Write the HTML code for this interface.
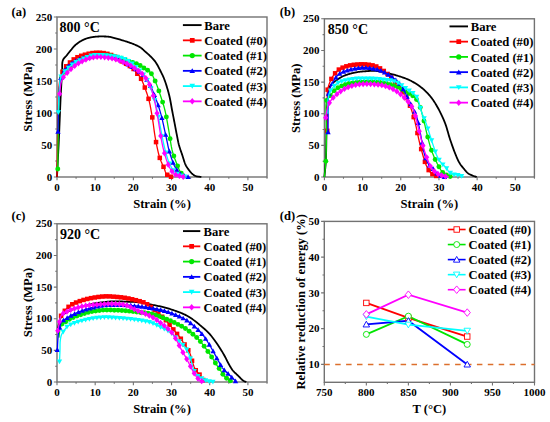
<!DOCTYPE html>
<html><head><meta charset="utf-8"><style>
html,body{margin:0;padding:0;background:#fff;width:550px;height:422px;overflow:hidden}
svg{display:block}
text{font-family:"Liberation Serif", serif;font-weight:bold;fill:#000}
</style></head><body>
<svg width="550" height="422" viewBox="0 0 550 422">
<rect width="550" height="422" fill="#fff"/>
<rect x="57.00" y="17.00" width="210.00" height="160.00" fill="none" stroke="#727272" stroke-width="1.4"/>
<path d="M57.00,177.00v3.2M95.18,177.00v3.2M133.36,177.00v3.2M171.55,177.00v3.2M209.73,177.00v3.2M247.91,177.00v3.2M76.09,177.00v1.8M114.27,177.00v1.8M152.45,177.00v1.8M190.64,177.00v1.8M228.82,177.00v1.8M267.00,177.00v1.8M57.00,177.00h-3.2M57.00,145.00h-3.2M57.00,113.00h-3.2M57.00,81.00h-3.2M57.00,49.00h-3.2M57.00,17.00h-3.2M57.00,161.00h-1.8M57.00,129.00h-1.8M57.00,97.00h-1.8M57.00,65.00h-1.8M57.00,33.00h-1.8" stroke="#727272" stroke-width="1.1" fill="none"/>
<text x="57.00" y="190.60" font-size="11.0" text-anchor="middle" >0</text>
<text x="95.18" y="190.60" font-size="11.0" text-anchor="middle" >10</text>
<text x="133.36" y="190.60" font-size="11.0" text-anchor="middle" >20</text>
<text x="171.55" y="190.60" font-size="11.0" text-anchor="middle" >30</text>
<text x="209.73" y="190.60" font-size="11.0" text-anchor="middle" >40</text>
<text x="247.91" y="190.60" font-size="11.0" text-anchor="middle" >50</text>
<text x="52.20" y="180.60" font-size="11.0" text-anchor="end" >0</text>
<text x="52.20" y="148.60" font-size="11.0" text-anchor="end" >50</text>
<text x="52.20" y="116.60" font-size="11.0" text-anchor="end" >100</text>
<text x="52.20" y="84.60" font-size="11.0" text-anchor="end" >150</text>
<text x="52.20" y="52.60" font-size="11.0" text-anchor="end" >200</text>
<text x="52.20" y="20.60" font-size="11.0" text-anchor="end" >250</text>
<path d="M57.00,177.00 L57.16,173.81 L57.32,170.63 L57.48,167.47 L57.64,164.31 L57.80,161.15 L57.96,157.99 L58.12,154.81 L58.28,151.62 L58.44,148.41 L58.60,145.17 L58.75,141.90 L58.91,138.60 L59.07,134.94 L59.24,131.16 L59.40,127.28 L59.56,123.35 L59.72,119.40 L59.88,115.45 L60.03,111.55 L60.19,107.72 L60.35,104.00 L60.50,100.42 L60.66,97.01 L60.82,93.80 L60.93,91.64 L61.05,89.53 L61.16,87.48 L61.28,85.47 L61.39,83.53 L61.51,81.63 L61.62,79.79 L61.74,78.00 L61.85,76.27 L61.95,74.59 L62.06,72.97 L62.15,71.40 L62.20,70.33 L62.23,69.28 L62.23,68.25 L62.22,67.24 L62.21,66.27 L62.21,65.32 L62.23,64.40 L62.27,63.52 L62.34,62.67 L62.47,61.85 L62.64,61.07 L62.88,60.33 L63.11,59.79 L63.38,59.28 L63.68,58.81 L64.00,58.36 L64.35,57.93 L64.71,57.51 L65.09,57.11 L65.47,56.71 L65.84,56.31 L66.22,55.91 L66.58,55.50 L66.93,55.08 L67.26,54.66 L67.59,54.23 L67.92,53.81 L68.25,53.39 L68.59,52.97 L68.92,52.55 L69.25,52.13 L69.58,51.71 L69.91,51.30 L70.24,50.89 L70.57,50.49 L70.90,50.09 L71.20,49.71 L71.51,49.34 L71.81,48.96 L72.11,48.59 L72.41,48.22 L72.71,47.86 L73.01,47.50 L73.32,47.14 L73.62,46.79 L73.93,46.45 L74.24,46.12 L74.56,45.80 L74.86,45.51 L75.16,45.23 L75.46,44.96 L75.77,44.69 L76.08,44.43 L76.38,44.18 L76.70,43.93 L77.01,43.68 L77.33,43.44 L77.65,43.20 L77.98,42.96 L78.31,42.73 L78.64,42.49 L78.99,42.26 L79.34,42.03 L79.69,41.81 L80.04,41.59 L80.40,41.37 L80.76,41.16 L81.12,40.95 L81.49,40.74 L81.85,40.55 L82.22,40.35 L82.58,40.17 L82.93,39.99 L83.29,39.82 L83.64,39.66 L84.00,39.49 L84.36,39.34 L84.72,39.19 L85.08,39.04 L85.44,38.90 L85.80,38.76 L86.16,38.63 L86.53,38.50 L86.90,38.38 L87.26,38.26 L87.62,38.15 L87.99,38.05 L88.35,37.95 L88.72,37.85 L89.08,37.76 L89.45,37.68 L89.83,37.59 L90.20,37.51 L90.58,37.44 L90.97,37.36 L91.36,37.29 L91.81,37.21 L92.26,37.13 L92.72,37.06 L93.18,36.99 L93.65,36.93 L94.12,36.87 L94.59,36.81 L95.07,36.76 L95.55,36.71 L96.03,36.66 L96.50,36.62 L96.98,36.58 L97.46,36.55 L97.94,36.52 L98.42,36.50 L98.90,36.48 L99.39,36.46 L99.87,36.45 L100.36,36.45 L100.84,36.44 L101.33,36.44 L101.83,36.44 L102.32,36.45 L102.82,36.46 L103.34,36.46 L103.86,36.47 L104.38,36.48 L104.90,36.49 L105.42,36.50 L105.94,36.52 L106.47,36.54 L107.01,36.58 L107.57,36.62 L108.13,36.68 L108.71,36.75 L109.31,36.84 L110.13,36.98 L110.99,37.15 L111.87,37.35 L112.77,37.56 L113.69,37.80 L114.63,38.05 L115.58,38.32 L116.54,38.59 L117.51,38.87 L118.47,39.15 L119.43,39.44 L120.38,39.72 L121.42,40.03 L122.48,40.34 L123.56,40.67 L124.66,41.01 L125.75,41.35 L126.85,41.70 L127.94,42.05 L129.01,42.41 L130.05,42.78 L131.07,43.14 L132.05,43.51 L132.98,43.88 L133.70,44.17 L134.41,44.47 L135.11,44.76 L135.79,45.06 L136.45,45.36 L137.10,45.66 L137.74,45.97 L138.35,46.28 L138.95,46.59 L139.53,46.92 L140.08,47.25 L140.62,47.59 L141.03,47.87 L141.42,48.16 L141.78,48.45 L142.13,48.75 L142.47,49.04 L142.80,49.35 L143.12,49.65 L143.45,49.96 L143.78,50.28 L144.11,50.59 L144.46,50.92 L144.82,51.24 L145.24,51.61 L145.68,51.99 L146.12,52.37 L146.56,52.76 L147.02,53.15 L147.47,53.55 L147.92,53.95 L148.38,54.35 L148.83,54.77 L149.28,55.18 L149.73,55.61 L150.16,56.04 L150.62,56.50 L151.08,56.96 L151.54,57.42 L152.00,57.88 L152.45,58.35 L152.90,58.83 L153.35,59.32 L153.80,59.82 L154.24,60.34 L154.67,60.87 L155.09,61.42 L155.51,61.99 L155.99,62.69 L156.46,63.43 L156.92,64.20 L157.38,65.00 L157.83,65.81 L158.27,66.64 L158.71,67.48 L159.13,68.31 L159.55,69.14 L159.95,69.96 L160.35,70.76 L160.74,71.53 L161.07,72.18 L161.39,72.81 L161.70,73.43 L162.00,74.03 L162.29,74.62 L162.58,75.22 L162.87,75.83 L163.15,76.45 L163.43,77.09 L163.71,77.76 L164.00,78.46 L164.29,79.21 L164.71,80.32 L165.13,81.50 L165.56,82.75 L165.99,84.05 L166.42,85.39 L166.84,86.76 L167.26,88.15 L167.67,89.54 L168.06,90.94 L168.44,92.33 L168.80,93.69 L169.14,95.02 L169.44,96.27 L169.72,97.52 L169.99,98.77 L170.23,100.02 L170.47,101.27 L170.70,102.52 L170.92,103.76 L171.14,105.01 L171.36,106.25 L171.58,107.50 L171.81,108.74 L172.04,109.99 L172.29,111.25 L172.53,112.53 L172.78,113.81 L173.03,115.11 L173.28,116.40 L173.53,117.68 L173.78,118.96 L174.02,120.22 L174.26,121.46 L174.50,122.67 L174.72,123.86 L174.94,125.00 L175.12,125.91 L175.28,126.79 L175.45,127.65 L175.60,128.49 L175.76,129.32 L175.91,130.14 L176.06,130.95 L176.22,131.75 L176.37,132.56 L176.53,133.37 L176.69,134.19 L176.85,135.02 L177.02,135.85 L177.18,136.68 L177.34,137.52 L177.50,138.35 L177.66,139.19 L177.82,140.02 L177.99,140.85 L178.16,141.68 L178.34,142.52 L178.54,143.34 L178.74,144.17 L178.95,145.00 L179.19,145.84 L179.43,146.67 L179.69,147.51 L179.96,148.34 L180.23,149.17 L180.51,150.00 L180.80,150.83 L181.09,151.66 L181.38,152.49 L181.67,153.32 L181.95,154.15 L182.24,154.98 L182.51,155.83 L182.79,156.70 L183.06,157.58 L183.33,158.46 L183.61,159.35 L183.88,160.23 L184.16,161.10 L184.45,161.94 L184.74,162.76 L185.04,163.55 L185.35,164.30 L185.67,165.00 L185.92,165.50 L186.17,165.97 L186.43,166.43 L186.69,166.86 L186.96,167.29 L187.23,167.70 L187.50,168.10 L187.78,168.49 L188.06,168.88 L188.34,169.26 L188.63,169.64 L188.92,170.02 L189.19,170.39 L189.47,170.75 L189.76,171.11 L190.05,171.46 L190.34,171.82 L190.63,172.16 L190.93,172.50 L191.22,172.82 L191.52,173.14 L191.82,173.44 L192.13,173.72 L192.43,173.99 L192.68,174.21 L192.93,174.41 L193.18,174.61 L193.43,174.79 L193.67,174.97 L193.92,175.14 L194.18,175.30 L194.44,175.46 L194.71,175.60 L195.00,175.74 L195.29,175.88 L195.60,176.00 L196.01,176.14 L196.44,176.26 L196.89,176.37 L197.36,176.46 L197.85,176.54 L198.34,176.60 L198.84,176.67 L199.34,176.73 L199.85,176.79 L200.35,176.85 L200.84,176.92 L201.33,177.00" fill="none" stroke="#000000" stroke-width="1.8" stroke-linejoin="round"/>
<path d="M57.00,177.00 L57.03,174.88 L57.06,172.79 L57.09,170.72 L57.12,168.66 L57.16,166.60 L57.19,164.52 L57.22,162.43 L57.25,160.32 L57.28,158.16 L57.31,155.97 L57.35,153.71 L57.38,151.40 L57.42,148.45 L57.46,145.36 L57.50,142.16 L57.54,138.89 L57.58,135.56 L57.62,132.20 L57.66,128.84 L57.71,125.51 L57.76,122.24 L57.82,119.04 L57.88,115.95 L57.95,113.00 L58.01,110.65 L58.07,108.30 L58.12,105.96 L58.17,103.65 L58.23,101.38 L58.29,99.15 L58.36,96.98 L58.44,94.88 L58.54,92.86 L58.64,90.94 L58.77,89.11 L58.91,87.40 L59.01,86.37 L59.11,85.38 L59.21,84.42 L59.32,83.50 L59.43,82.61 L59.55,81.76 L59.68,80.93 L59.81,80.13 L59.95,79.35 L60.10,78.60 L60.26,77.87 L60.44,77.16 L60.56,76.67 L60.69,76.20 L60.82,75.75 L60.95,75.31 L61.09,74.89 L61.23,74.49 L61.38,74.08 L61.54,73.68 L61.71,73.28 L61.89,72.88 L62.09,72.46 L62.31,72.04 L62.58,71.53 L62.88,71.01 L63.21,70.48 L63.55,69.95 L63.90,69.41 L64.27,68.88 L64.65,68.36 L65.03,67.84 L65.42,67.33 L65.81,66.83 L66.20,66.36 L66.58,65.90 L66.93,65.50 L67.27,65.11 L67.63,64.73 L67.98,64.37 L68.34,64.01 L68.70,63.66 L69.06,63.31 L69.43,62.97 L69.80,62.64 L70.16,62.31 L70.53,61.99 L70.90,61.67 L71.24,61.38 L71.59,61.08 L71.93,60.80 L72.27,60.51 L72.62,60.23 L72.97,59.96 L73.32,59.69 L73.67,59.43 L74.02,59.18 L74.38,58.94 L74.74,58.70 L75.10,58.47 L75.44,58.27 L75.79,58.07 L76.14,57.88 L76.50,57.69 L76.85,57.52 L77.21,57.35 L77.57,57.18 L77.93,57.02 L78.29,56.87 L78.65,56.71 L79.01,56.57 L79.37,56.42 L79.73,56.29 L80.09,56.16 L80.44,56.04 L80.80,55.92 L81.16,55.81 L81.53,55.70 L81.89,55.60 L82.25,55.49 L82.61,55.39 L82.97,55.29 L83.33,55.18 L83.69,55.08 L84.04,54.98 L84.39,54.87 L84.74,54.77 L85.09,54.67 L85.44,54.57 L85.79,54.47 L86.14,54.38 L86.48,54.28 L86.83,54.19 L87.19,54.10 L87.54,54.01 L87.89,53.93 L88.24,53.85 L88.59,53.77 L88.94,53.69 L89.30,53.61 L89.65,53.54 L90.00,53.46 L90.36,53.39 L90.71,53.33 L91.07,53.26 L91.43,53.20 L91.80,53.15 L92.17,53.10 L92.56,53.04 L92.96,53.00 L93.36,52.95 L93.76,52.91 L94.17,52.87 L94.58,52.83 L94.99,52.80 L95.41,52.78 L95.82,52.75 L96.24,52.74 L96.67,52.72 L97.09,52.71 L97.55,52.71 L98.02,52.70 L98.49,52.71 L98.97,52.71 L99.45,52.72 L99.93,52.74 L100.41,52.76 L100.90,52.79 L101.38,52.83 L101.86,52.87 L102.34,52.91 L102.82,52.97 L103.30,53.03 L103.78,53.10 L104.26,53.17 L104.74,53.25 L105.22,53.33 L105.69,53.42 L106.17,53.52 L106.65,53.63 L107.12,53.74 L107.60,53.86 L108.07,53.99 L108.55,54.12 L109.02,54.26 L109.50,54.41 L109.96,54.56 L110.43,54.72 L110.89,54.89 L111.36,55.06 L111.82,55.24 L112.29,55.44 L112.77,55.65 L113.26,55.87 L113.76,56.11 L114.27,56.36 L114.97,56.73 L115.70,57.13 L116.44,57.57 L117.19,58.03 L117.96,58.52 L118.74,59.02 L119.52,59.53 L120.31,60.06 L121.09,60.58 L121.88,61.10 L122.66,61.62 L123.44,62.12 L124.24,62.63 L125.08,63.14 L125.93,63.66 L126.79,64.17 L127.66,64.70 L128.51,65.22 L129.35,65.74 L130.16,66.27 L130.94,66.80 L131.68,67.33 L132.36,67.86 L132.98,68.39 L133.39,68.78 L133.77,69.17 L134.12,69.57 L134.45,69.96 L134.76,70.35 L135.06,70.75 L135.34,71.14 L135.63,71.54 L135.91,71.94 L136.20,72.33 L136.49,72.73 L136.80,73.13 L137.12,73.51 L137.43,73.88 L137.75,74.23 L138.07,74.57 L138.38,74.91 L138.70,75.26 L139.01,75.63 L139.33,76.02 L139.65,76.43 L139.97,76.89 L140.29,77.38 L140.62,77.93 L141.26,79.12 L141.92,80.50 L142.62,82.04 L143.32,83.71 L144.03,85.49 L144.74,87.35 L145.44,89.24 L146.12,91.16 L146.76,93.06 L147.37,94.92 L147.94,96.72 L148.45,98.41 L148.84,99.82 L149.21,101.19 L149.54,102.54 L149.84,103.87 L150.12,105.19 L150.38,106.51 L150.63,107.84 L150.88,109.19 L151.12,110.56 L151.36,111.97 L151.62,113.42 L151.88,114.92 L152.22,116.88 L152.54,118.94 L152.86,121.08 L153.17,123.28 L153.48,125.52 L153.78,127.78 L154.09,130.04 L154.41,132.29 L154.73,134.49 L155.07,136.65 L155.41,138.73 L155.78,140.71 L156.08,142.30 L156.39,143.88 L156.71,145.44 L157.03,146.97 L157.35,148.48 L157.68,149.97 L158.01,151.42 L158.36,152.84 L158.72,154.22 L159.09,155.56 L159.47,156.86 L159.86,158.12 L160.18,159.07 L160.52,159.99 L160.88,160.88 L161.24,161.76 L161.61,162.61 L161.98,163.44 L162.35,164.25 L162.72,165.05 L163.08,165.82 L163.42,166.58 L163.75,167.32 L164.06,168.04 L164.28,168.58 L164.48,169.12 L164.66,169.66 L164.84,170.18 L165.01,170.69 L165.18,171.20 L165.35,171.68 L165.54,172.15 L165.73,172.60 L165.94,173.02 L166.17,173.43 L166.43,173.80 L166.65,174.09 L166.89,174.36 L167.14,174.62 L167.39,174.87 L167.66,175.10 L167.93,175.32 L168.20,175.53 L168.48,175.72 L168.77,175.90 L169.06,176.07 L169.35,176.22 L169.64,176.36 L169.91,176.47 L170.18,176.56 L170.46,176.64 L170.75,176.70 L171.04,176.74 L171.33,176.78 L171.62,176.82 L171.91,176.85 L172.20,176.88 L172.49,176.91 L172.78,176.95 L173.07,177.00" fill="none" stroke="#ff0000" stroke-width="1.3" stroke-linejoin="round"/>
<rect x="60.24" y="69.43" width="4.51" height="4.51" fill="#ff0000"/><rect x="63.98" y="64.05" width="4.51" height="4.51" fill="#ff0000"/><rect x="67.72" y="60.22" width="4.51" height="4.51" fill="#ff0000"/><rect x="71.47" y="57.14" width="4.51" height="4.51" fill="#ff0000"/><rect x="75.21" y="54.97" width="4.51" height="4.51" fill="#ff0000"/><rect x="78.95" y="53.54" width="4.51" height="4.51" fill="#ff0000"/><rect x="82.69" y="52.45" width="4.51" height="4.51" fill="#ff0000"/><rect x="86.43" y="51.49" width="4.51" height="4.51" fill="#ff0000"/><rect x="90.18" y="50.80" width="4.51" height="4.51" fill="#ff0000"/><rect x="93.92" y="50.48" width="4.51" height="4.51" fill="#ff0000"/><rect x="97.66" y="50.48" width="4.51" height="4.51" fill="#ff0000"/><rect x="101.40" y="50.82" width="4.51" height="4.51" fill="#ff0000"/><rect x="105.14" y="51.55" width="4.51" height="4.51" fill="#ff0000"/><rect x="108.88" y="52.72" width="4.51" height="4.51" fill="#ff0000"/><rect x="112.63" y="54.42" width="4.51" height="4.51" fill="#ff0000"/><rect x="116.37" y="56.69" width="4.51" height="4.51" fill="#ff0000"/><rect x="120.11" y="59.17" width="4.51" height="4.51" fill="#ff0000"/><rect x="123.85" y="61.51" width="4.51" height="4.51" fill="#ff0000"/><rect x="127.59" y="63.81" width="4.51" height="4.51" fill="#ff0000"/><rect x="131.34" y="66.73" width="4.51" height="4.51" fill="#ff0000"/><rect x="135.08" y="71.50" width="4.51" height="4.51" fill="#ff0000"/><rect x="138.82" y="76.53" width="4.51" height="4.51" fill="#ff0000"/><rect x="142.56" y="85.29" width="4.51" height="4.51" fill="#ff0000"/><rect x="146.30" y="96.56" width="4.51" height="4.51" fill="#ff0000"/><rect x="150.04" y="115.16" width="4.51" height="4.51" fill="#ff0000"/><rect x="153.79" y="139.83" width="4.51" height="4.51" fill="#ff0000"/><rect x="157.53" y="155.62" width="4.51" height="4.51" fill="#ff0000"/><rect x="161.27" y="164.55" width="4.51" height="4.51" fill="#ff0000"/><rect x="165.01" y="172.49" width="4.51" height="4.51" fill="#ff0000"/><rect x="168.75" y="174.48" width="4.51" height="4.51" fill="#ff0000"/>
<path d="M57.76,169.00 L57.79,166.47 L57.83,163.94 L57.86,161.42 L57.88,158.90 L57.91,156.37 L57.94,153.85 L57.97,151.32 L58.01,148.79 L58.04,146.25 L58.07,143.71 L58.11,141.16 L58.15,138.60 L58.18,135.94 L58.22,133.23 L58.26,130.49 L58.30,127.73 L58.34,124.96 L58.38,122.21 L58.42,119.47 L58.47,116.77 L58.52,114.12 L58.58,111.53 L58.65,109.02 L58.72,106.60 L58.77,104.70 L58.82,102.82 L58.87,100.94 L58.91,99.09 L58.96,97.28 L59.02,95.50 L59.08,93.77 L59.16,92.09 L59.25,90.48 L59.37,88.95 L59.51,87.49 L59.67,86.12 L59.79,85.29 L59.90,84.50 L60.01,83.74 L60.12,83.01 L60.24,82.31 L60.37,81.64 L60.52,80.98 L60.68,80.33 L60.87,79.70 L61.08,79.07 L61.31,78.44 L61.58,77.80 L61.88,77.16 L62.21,76.54 L62.56,75.92 L62.93,75.32 L63.33,74.72 L63.74,74.13 L64.18,73.55 L64.63,72.98 L65.09,72.42 L65.56,71.86 L66.05,71.31 L66.55,70.76 L67.09,70.18 L67.66,69.61 L68.25,69.04 L68.86,68.48 L69.48,67.93 L70.12,67.39 L70.77,66.86 L71.44,66.34 L72.11,65.83 L72.80,65.33 L73.49,64.84 L74.18,64.36 L74.92,63.87 L75.66,63.39 L76.42,62.92 L77.19,62.46 L77.98,62.01 L78.77,61.57 L79.57,61.15 L80.39,60.74 L81.21,60.34 L82.04,59.96 L82.88,59.59 L83.73,59.24 L84.63,58.89 L85.56,58.55 L86.51,58.22 L87.47,57.91 L88.44,57.62 L89.42,57.34 L90.39,57.08 L91.37,56.83 L92.34,56.60 L93.31,56.40 L94.25,56.21 L95.18,56.04 L96.00,55.91 L96.81,55.79 L97.62,55.69 L98.42,55.61 L99.21,55.54 L100.00,55.49 L100.79,55.45 L101.57,55.42 L102.36,55.40 L103.15,55.39 L103.93,55.39 L104.73,55.40 L105.52,55.42 L106.32,55.45 L107.12,55.49 L107.92,55.54 L108.72,55.60 L109.52,55.68 L110.32,55.76 L111.12,55.86 L111.91,55.97 L112.70,56.09 L113.49,56.22 L114.27,56.36 L115.05,56.52 L115.84,56.69 L116.63,56.88 L117.42,57.08 L118.20,57.29 L118.98,57.51 L119.76,57.74 L120.52,57.97 L121.27,58.21 L122.01,58.45 L122.73,58.69 L123.44,58.92 L124.02,59.12 L124.58,59.33 L125.13,59.54 L125.67,59.75 L126.20,59.97 L126.72,60.19 L127.24,60.40 L127.77,60.62 L128.29,60.84 L128.83,61.06 L129.37,61.27 L129.93,61.48 L130.54,61.70 L131.18,61.91 L131.82,62.12 L132.47,62.32 L133.13,62.52 L133.79,62.72 L134.45,62.93 L135.10,63.14 L135.74,63.36 L136.36,63.60 L136.97,63.84 L137.56,64.10 L138.08,64.35 L138.58,64.61 L139.07,64.87 L139.54,65.15 L140.01,65.43 L140.47,65.71 L140.93,66.00 L141.39,66.30 L141.85,66.61 L142.32,66.92 L142.80,67.24 L143.29,67.56 L143.88,67.93 L144.49,68.31 L145.12,68.69 L145.76,69.07 L146.40,69.46 L147.05,69.86 L147.68,70.28 L148.31,70.72 L148.91,71.17 L149.49,71.65 L150.04,72.15 L150.55,72.68 L151.03,73.26 L151.49,73.86 L151.91,74.48 L152.31,75.13 L152.69,75.80 L153.05,76.49 L153.40,77.20 L153.74,77.92 L154.08,78.67 L154.42,79.43 L154.77,80.21 L155.13,81.00 L155.58,82.03 L156.03,83.11 L156.48,84.22 L156.92,85.37 L157.36,86.55 L157.79,87.75 L158.21,88.97 L158.64,90.20 L159.06,91.43 L159.47,92.66 L159.88,93.88 L160.28,95.08 L160.69,96.29 L161.10,97.50 L161.50,98.70 L161.90,99.90 L162.29,101.10 L162.68,102.32 L163.06,103.54 L163.44,104.78 L163.81,106.04 L164.17,107.33 L164.52,108.64 L164.86,109.99 L165.26,111.64 L165.64,113.35 L166.00,115.10 L166.36,116.90 L166.70,118.72 L167.04,120.56 L167.36,122.41 L167.69,124.27 L168.01,126.11 L168.32,127.94 L168.63,129.73 L168.95,131.50 L169.24,133.14 L169.50,134.79 L169.76,136.45 L170.01,138.11 L170.25,139.76 L170.50,141.39 L170.75,143.01 L171.01,144.60 L171.28,146.16 L171.58,147.68 L171.89,149.17 L172.23,150.60 L172.53,151.74 L172.85,152.86 L173.18,153.95 L173.51,155.02 L173.86,156.07 L174.22,157.10 L174.58,158.12 L174.94,159.12 L175.31,160.10 L175.69,161.07 L176.06,162.03 L176.43,162.98 L176.76,163.82 L177.08,164.65 L177.40,165.48 L177.73,166.30 L178.06,167.11 L178.39,167.91 L178.73,168.69 L179.07,169.45 L179.43,170.18 L179.79,170.89 L180.17,171.56 L180.56,172.20 L180.88,172.68 L181.21,173.13 L181.55,173.56 L181.90,173.97 L182.25,174.36 L182.61,174.74 L182.96,175.11 L183.33,175.48 L183.69,175.85 L184.05,176.23 L184.40,176.61 L184.76,177.00" fill="none" stroke="#00e600" stroke-width="1.3" stroke-linejoin="round"/>
<circle cx="61.58" cy="77.80" r="2.47" fill="#00e600"/><circle cx="65.32" cy="72.14" r="2.47" fill="#00e600"/><circle cx="69.07" cy="68.30" r="2.47" fill="#00e600"/><circle cx="72.81" cy="65.32" r="2.47" fill="#00e600"/><circle cx="76.55" cy="62.85" r="2.47" fill="#00e600"/><circle cx="80.29" cy="60.79" r="2.47" fill="#00e600"/><circle cx="84.03" cy="59.12" r="2.47" fill="#00e600"/><circle cx="87.77" cy="57.82" r="2.47" fill="#00e600"/><circle cx="91.52" cy="56.80" r="2.47" fill="#00e600"/><circle cx="95.26" cy="56.03" r="2.47" fill="#00e600"/><circle cx="99.00" cy="55.56" r="2.47" fill="#00e600"/><circle cx="102.74" cy="55.39" r="2.47" fill="#00e600"/><circle cx="106.48" cy="55.46" r="2.47" fill="#00e600"/><circle cx="110.23" cy="55.75" r="2.47" fill="#00e600"/><circle cx="113.97" cy="56.30" r="2.47" fill="#00e600"/><circle cx="117.71" cy="57.16" r="2.47" fill="#00e600"/><circle cx="121.45" cy="58.27" r="2.47" fill="#00e600"/><circle cx="125.19" cy="59.56" r="2.47" fill="#00e600"/><circle cx="128.93" cy="61.10" r="2.47" fill="#00e600"/><circle cx="132.68" cy="62.38" r="2.47" fill="#00e600"/><circle cx="136.42" cy="63.62" r="2.47" fill="#00e600"/><circle cx="140.16" cy="65.52" r="2.47" fill="#00e600"/><circle cx="143.90" cy="67.95" r="2.47" fill="#00e600"/><circle cx="147.64" cy="70.25" r="2.47" fill="#00e600"/><circle cx="151.39" cy="73.73" r="2.47" fill="#00e600"/><circle cx="155.13" cy="81.00" r="2.47" fill="#00e600"/><circle cx="158.87" cy="90.88" r="2.47" fill="#00e600"/><circle cx="162.61" cy="102.10" r="2.47" fill="#00e600"/><circle cx="166.35" cy="116.88" r="2.47" fill="#00e600"/><circle cx="170.09" cy="138.68" r="2.47" fill="#00e600"/><circle cx="173.84" cy="156.00" r="2.47" fill="#00e600"/><circle cx="177.58" cy="165.92" r="2.47" fill="#00e600"/><circle cx="181.32" cy="173.27" r="2.47" fill="#00e600"/><circle cx="57.76" cy="169.00" r="2.47" fill="#00e600"/>
<path d="M57.99,131.56 L58.04,129.46 L58.08,127.34 L58.12,125.19 L58.15,123.03 L58.19,120.88 L58.23,118.73 L58.27,116.61 L58.31,114.51 L58.36,112.45 L58.41,110.44 L58.47,108.49 L58.53,106.60 L58.58,105.14 L58.63,103.71 L58.67,102.31 L58.72,100.94 L58.77,99.59 L58.83,98.26 L58.89,96.96 L58.95,95.67 L59.02,94.39 L59.10,93.12 L59.19,91.86 L59.29,90.60 L59.38,89.47 L59.46,88.34 L59.54,87.21 L59.61,86.09 L59.69,84.97 L59.79,83.88 L59.90,82.79 L60.02,81.74 L60.17,80.70 L60.35,79.70 L60.57,78.73 L60.82,77.80 L61.05,77.07 L61.30,76.36 L61.56,75.66 L61.84,74.99 L62.14,74.33 L62.45,73.69 L62.78,73.07 L63.12,72.46 L63.48,71.86 L63.85,71.27 L64.24,70.69 L64.64,70.12 L65.04,69.58 L65.46,69.05 L65.89,68.53 L66.34,68.02 L66.80,67.53 L67.28,67.04 L67.77,66.57 L68.27,66.11 L68.78,65.66 L69.30,65.22 L69.83,64.78 L70.36,64.36 L70.94,63.93 L71.52,63.51 L72.12,63.10 L72.74,62.70 L73.36,62.31 L74.00,61.93 L74.64,61.57 L75.30,61.21 L75.96,60.86 L76.63,60.53 L77.31,60.20 L78.00,59.88 L78.74,59.55 L79.50,59.23 L80.28,58.92 L81.07,58.62 L81.86,58.33 L82.67,58.06 L83.48,57.80 L84.29,57.54 L85.11,57.31 L85.93,57.08 L86.74,56.87 L87.55,56.68 L88.33,56.50 L89.12,56.34 L89.92,56.19 L90.71,56.06 L91.51,55.94 L92.30,55.83 L93.10,55.73 L93.90,55.64 L94.70,55.56 L95.50,55.50 L96.29,55.44 L97.09,55.40 L97.89,55.36 L98.68,55.34 L99.48,55.32 L100.27,55.32 L101.07,55.33 L101.87,55.34 L102.67,55.37 L103.46,55.42 L104.26,55.47 L105.05,55.54 L105.85,55.62 L106.64,55.72 L107.44,55.83 L108.25,55.96 L109.06,56.10 L109.88,56.25 L110.69,56.42 L111.51,56.60 L112.31,56.79 L113.11,57.00 L113.90,57.22 L114.67,57.45 L115.44,57.70 L116.18,57.96 L116.86,58.22 L117.52,58.49 L118.17,58.77 L118.80,59.07 L119.43,59.38 L120.05,59.70 L120.66,60.03 L121.28,60.37 L121.90,60.72 L122.53,61.07 L123.17,61.43 L123.82,61.80 L124.56,62.23 L125.32,62.67 L126.08,63.13 L126.85,63.61 L127.62,64.09 L128.39,64.58 L129.17,65.08 L129.94,65.58 L130.71,66.08 L131.47,66.58 L132.23,67.07 L132.98,67.56 L133.70,68.01 L134.43,68.45 L135.15,68.89 L135.87,69.31 L136.59,69.74 L137.31,70.17 L138.02,70.61 L138.72,71.06 L139.40,71.54 L140.08,72.04 L140.74,72.57 L141.38,73.13 L142.06,73.77 L142.72,74.44 L143.37,75.14 L144.01,75.87 L144.64,76.62 L145.26,77.38 L145.86,78.17 L146.44,78.97 L147.01,79.78 L147.57,80.61 L148.11,81.44 L148.64,82.28 L149.16,83.16 L149.66,84.04 L150.13,84.94 L150.59,85.85 L151.03,86.77 L151.46,87.71 L151.88,88.66 L152.29,89.64 L152.70,90.64 L153.12,91.66 L153.55,92.72 L153.98,93.80 L154.55,95.23 L155.13,96.72 L155.71,98.27 L156.29,99.86 L156.87,101.48 L157.45,103.14 L158.02,104.82 L158.58,106.52 L159.12,108.22 L159.66,109.93 L160.17,111.63 L160.66,113.32 L161.15,115.08 L161.62,116.86 L162.06,118.66 L162.49,120.47 L162.91,122.30 L163.32,124.13 L163.72,125.96 L164.11,127.78 L164.50,129.59 L164.88,131.38 L165.27,133.15 L165.67,134.89 L166.02,136.47 L166.36,138.04 L166.68,139.61 L167.00,141.16 L167.32,142.71 L167.64,144.24 L167.96,145.76 L168.29,147.27 L168.64,148.76 L169.01,150.23 L169.40,151.69 L169.83,153.13 L170.24,154.46 L170.66,155.80 L171.10,157.15 L171.55,158.50 L172.01,159.83 L172.49,161.14 L172.98,162.42 L173.48,163.66 L174.00,164.85 L174.53,165.98 L175.07,167.05 L175.63,168.04 L176.04,168.72 L176.45,169.37 L176.87,169.99 L177.29,170.59 L177.71,171.16 L178.15,171.71 L178.59,172.23 L179.06,172.73 L179.53,173.20 L180.03,173.64 L180.55,174.05 L181.09,174.44 L181.65,174.78 L182.23,175.08 L182.84,175.34 L183.47,175.56 L184.11,175.77 L184.77,175.95 L185.43,176.12 L186.10,176.28 L186.77,176.45 L187.43,176.62 L188.08,176.80 L188.73,177.00" fill="none" stroke="#0000ff" stroke-width="1.3" stroke-linejoin="round"/>
<polygon points="60.82,75.20 63.51,79.93 58.13,79.93" fill="#0000ff"/><polygon points="64.56,67.63 67.25,72.36 61.87,72.36" fill="#0000ff"/><polygon points="68.30,63.48 70.99,68.21 65.61,68.21" fill="#0000ff"/><polygon points="72.04,60.55 74.73,65.28 69.36,65.28" fill="#0000ff"/><polygon points="75.79,58.35 78.47,63.08 73.10,63.08" fill="#0000ff"/><polygon points="79.53,56.62 82.21,61.35 76.84,61.35" fill="#0000ff"/><polygon points="83.27,55.26 85.96,59.99 80.58,59.99" fill="#0000ff"/><polygon points="87.01,54.21 89.70,58.94 84.32,58.94" fill="#0000ff"/><polygon points="90.75,53.45 93.44,58.18 88.07,58.18" fill="#0000ff"/><polygon points="94.49,52.98 97.18,57.71 91.81,57.71" fill="#0000ff"/><polygon points="98.24,52.75 100.92,57.48 95.55,57.48" fill="#0000ff"/><polygon points="101.98,52.75 104.67,57.48 99.29,57.48" fill="#0000ff"/><polygon points="105.72,53.01 108.41,57.74 103.03,57.74" fill="#0000ff"/><polygon points="109.46,53.57 112.15,58.30 106.77,58.30" fill="#0000ff"/><polygon points="113.20,54.42 115.89,59.15 110.52,59.15" fill="#0000ff"/><polygon points="116.95,55.65 119.63,60.38 114.26,60.38" fill="#0000ff"/><polygon points="120.69,57.44 123.37,62.17 118.00,62.17" fill="#0000ff"/><polygon points="124.43,59.55 127.12,64.28 121.74,64.28" fill="#0000ff"/><polygon points="128.17,61.84 130.86,66.57 125.48,66.57" fill="#0000ff"/><polygon points="131.91,64.27 134.60,69.00 129.23,69.00" fill="#0000ff"/><polygon points="135.65,66.58 138.34,71.31 132.97,71.31" fill="#0000ff"/><polygon points="139.40,68.93 142.08,73.66 136.71,73.66" fill="#0000ff"/><polygon points="143.14,72.29 145.83,77.02 140.45,77.02" fill="#0000ff"/><polygon points="146.88,76.99 149.57,81.72 144.19,81.72" fill="#0000ff"/><polygon points="150.62,83.31 153.31,88.04 147.93,88.04" fill="#0000ff"/><polygon points="154.36,92.16 157.05,96.89 151.68,96.89" fill="#0000ff"/><polygon points="158.11,102.49 160.79,107.22 155.42,107.22" fill="#0000ff"/><polygon points="161.85,115.19 164.53,119.92 159.16,119.92" fill="#0000ff"/><polygon points="165.59,131.95 168.28,136.68 162.90,136.68" fill="#0000ff"/><polygon points="169.33,148.81 172.02,153.54 166.64,153.54" fill="#0000ff"/><polygon points="173.07,160.06 175.76,164.79 170.39,164.79" fill="#0000ff"/><polygon points="176.81,167.31 179.50,172.04 174.13,172.04" fill="#0000ff"/><polygon points="180.56,171.46 183.24,176.19 177.87,176.19" fill="#0000ff"/><polygon points="184.30,173.22 186.99,177.95 181.61,177.95" fill="#0000ff"/><polygon points="188.04,174.18 190.73,178.91 185.35,178.91" fill="#0000ff"/><polygon points="57.99,128.96 60.68,133.69 55.31,133.69" fill="#0000ff"/>
<path d="M58.34,112.36 L58.41,110.53 L58.48,108.68 L58.54,106.80 L58.60,104.92 L58.66,103.04 L58.72,101.17 L58.79,99.32 L58.87,97.49 L58.95,95.69 L59.05,93.94 L59.16,92.24 L59.29,90.60 L59.39,89.32 L59.46,88.05 L59.52,86.80 L59.58,85.57 L59.64,84.36 L59.72,83.17 L59.83,82.01 L59.97,80.89 L60.15,79.79 L60.40,78.73 L60.70,77.70 L61.09,76.71 L61.49,75.87 L61.96,75.06 L62.48,74.27 L63.04,73.52 L63.63,72.79 L64.26,72.08 L64.90,71.40 L65.56,70.73 L66.23,70.08 L66.89,69.44 L67.55,68.82 L68.19,68.20 L68.76,67.65 L69.34,67.12 L69.92,66.60 L70.50,66.09 L71.09,65.60 L71.68,65.12 L72.28,64.65 L72.89,64.20 L73.50,63.76 L74.13,63.33 L74.76,62.91 L75.40,62.50 L76.06,62.11 L76.72,61.74 L77.40,61.39 L78.08,61.04 L78.78,60.71 L79.48,60.40 L80.18,60.09 L80.89,59.78 L81.60,59.48 L82.31,59.19 L83.02,58.89 L83.73,58.60 L84.44,58.30 L85.15,57.99 L85.87,57.68 L86.58,57.37 L87.31,57.07 L88.03,56.77 L88.75,56.49 L89.48,56.22 L90.21,55.98 L90.93,55.76 L91.66,55.56 L92.39,55.40 L93.10,55.28 L93.80,55.18 L94.50,55.10 L95.20,55.05 L95.91,55.02 L96.61,55.00 L97.32,54.99 L98.03,55.00 L98.74,55.01 L99.46,55.03 L100.18,55.06 L100.91,55.08 L101.68,55.11 L102.46,55.15 L103.24,55.21 L104.03,55.27 L104.82,55.35 L105.61,55.43 L106.40,55.52 L107.20,55.61 L108.01,55.71 L108.82,55.82 L109.63,55.93 L110.45,56.04 L111.36,56.16 L112.28,56.28 L113.22,56.40 L114.17,56.52 L115.12,56.65 L116.08,56.78 L117.03,56.93 L117.97,57.10 L118.89,57.28 L119.80,57.48 L120.68,57.71 L121.53,57.96 L122.26,58.20 L122.97,58.46 L123.67,58.73 L124.36,59.01 L125.03,59.31 L125.69,59.62 L126.35,59.95 L126.99,60.29 L127.64,60.64 L128.27,61.01 L128.91,61.40 L129.55,61.80 L130.21,62.24 L130.87,62.71 L131.53,63.20 L132.17,63.70 L132.81,64.23 L133.45,64.76 L134.08,65.31 L134.70,65.88 L135.32,66.45 L135.95,67.03 L136.56,67.61 L137.18,68.20 L137.84,68.83 L138.51,69.47 L139.18,70.12 L139.84,70.78 L140.51,71.45 L141.16,72.13 L141.81,72.83 L142.45,73.54 L143.07,74.26 L143.67,75.00 L144.26,75.75 L144.82,76.52 L145.38,77.34 L145.92,78.17 L146.44,79.02 L146.95,79.88 L147.44,80.76 L147.91,81.66 L148.37,82.57 L148.82,83.50 L149.26,84.44 L149.70,85.41 L150.12,86.39 L150.55,87.40 L151.03,88.60 L151.49,89.83 L151.94,91.08 L152.37,92.36 L152.79,93.67 L153.20,94.99 L153.60,96.35 L153.99,97.72 L154.38,99.11 L154.76,100.52 L155.13,101.95 L155.51,103.40 L155.94,105.13 L156.35,106.90 L156.75,108.72 L157.13,110.57 L157.51,112.45 L157.88,114.35 L158.25,116.26 L158.61,118.19 L158.98,120.11 L159.34,122.02 L159.71,123.92 L160.09,125.80 L160.47,127.68 L160.84,129.59 L161.21,131.52 L161.58,133.45 L161.94,135.38 L162.31,137.31 L162.69,139.21 L163.06,141.10 L163.45,142.95 L163.85,144.75 L164.25,146.51 L164.67,148.20 L165.02,149.56 L165.37,150.89 L165.72,152.21 L166.07,153.51 L166.42,154.78 L166.79,156.03 L167.16,157.25 L167.54,158.45 L167.94,159.61 L168.36,160.75 L168.80,161.85 L169.25,162.92 L169.64,163.78 L170.03,164.63 L170.43,165.47 L170.84,166.30 L171.26,167.10 L171.68,167.88 L172.13,168.63 L172.58,169.35 L173.06,170.04 L173.55,170.70 L174.06,171.31 L174.60,171.88 L175.08,172.33 L175.58,172.75 L176.10,173.14 L176.63,173.51 L177.18,173.85 L177.73,174.18 L178.30,174.48 L178.86,174.76 L179.43,175.02 L179.99,175.27 L180.54,175.50 L181.09,175.72 L181.57,175.90 L182.05,176.05 L182.52,176.18 L183.00,176.29 L183.48,176.39 L183.95,176.48 L184.43,176.57 L184.91,176.65 L185.39,176.73 L185.86,176.81 L186.34,176.90 L186.82,177.00" fill="none" stroke="#00ffff" stroke-width="1.3" stroke-linejoin="round"/>
<polygon points="61.09,79.31 63.77,74.58 58.40,74.58" fill="#00ffff"/><polygon points="64.83,74.08 67.51,69.35 62.14,69.35" fill="#00ffff"/><polygon points="68.57,70.44 71.26,65.71 65.88,65.71" fill="#00ffff"/><polygon points="72.31,67.23 75.00,62.50 69.62,62.50" fill="#00ffff"/><polygon points="76.05,64.72 78.74,59.99 73.37,59.99" fill="#00ffff"/><polygon points="79.79,62.86 82.48,58.13 77.11,58.13" fill="#00ffff"/><polygon points="83.54,61.28 86.22,56.55 80.85,56.55" fill="#00ffff"/><polygon points="87.28,59.68 89.97,54.95 84.59,54.95" fill="#00ffff"/><polygon points="91.02,58.33 93.71,53.60 88.33,53.60" fill="#00ffff"/><polygon points="94.76,57.68 97.45,52.95 92.07,52.95" fill="#00ffff"/><polygon points="98.50,57.61 101.19,52.88 95.82,52.88" fill="#00ffff"/><polygon points="102.25,57.74 104.93,53.01 99.56,53.01" fill="#00ffff"/><polygon points="105.99,58.07 108.67,53.34 103.30,53.34" fill="#00ffff"/><polygon points="109.73,58.54 112.42,53.81 107.04,53.81" fill="#00ffff"/><polygon points="113.47,59.03 116.16,54.30 110.78,54.30" fill="#00ffff"/><polygon points="117.21,59.57 119.90,54.84 114.53,54.84" fill="#00ffff"/><polygon points="120.95,60.39 123.64,55.66 118.27,55.66" fill="#00ffff"/><polygon points="124.70,61.76 127.38,57.03 122.01,57.03" fill="#00ffff"/><polygon points="128.44,63.71 131.13,58.98 125.75,58.98" fill="#00ffff"/><polygon points="132.18,66.31 134.87,61.58 129.49,61.58" fill="#00ffff"/><polygon points="135.92,69.61 138.61,64.88 133.23,64.88" fill="#00ffff"/><polygon points="139.66,73.21 142.35,68.48 136.98,68.48" fill="#00ffff"/><polygon points="143.41,77.27 146.09,72.54 140.72,72.54" fill="#00ffff"/><polygon points="147.15,82.84 149.83,78.11 144.46,78.11" fill="#00ffff"/><polygon points="150.89,90.86 153.58,86.13 148.20,86.13" fill="#00ffff"/><polygon points="154.63,102.65 157.32,97.92 151.94,97.92" fill="#00ffff"/><polygon points="158.37,119.52 161.06,114.79 155.69,114.79" fill="#00ffff"/><polygon points="162.11,138.87 164.80,134.14 159.43,134.14" fill="#00ffff"/><polygon points="165.86,155.33 168.54,150.60 163.17,150.60" fill="#00ffff"/><polygon points="169.60,166.28 172.29,161.55 166.91,161.55" fill="#00ffff"/><polygon points="173.34,173.02 176.03,168.29 170.65,168.29" fill="#00ffff"/><polygon points="177.08,176.40 179.77,171.67 174.39,171.67" fill="#00ffff"/><polygon points="180.82,178.21 183.51,173.48 178.14,173.48" fill="#00ffff"/><polygon points="184.57,179.19 187.25,174.46 181.88,174.46" fill="#00ffff"/><polygon points="58.34,114.96 61.02,110.23 55.65,110.23" fill="#00ffff"/>
<path d="M59.71,93.80 L59.83,92.82 L59.94,91.82 L60.04,90.80 L60.13,89.77 L60.23,88.74 L60.33,87.71 L60.44,86.71 L60.56,85.73 L60.69,84.79 L60.84,83.90 L61.01,83.06 L61.20,82.28 L61.34,81.80 L61.48,81.34 L61.62,80.91 L61.77,80.50 L61.92,80.11 L62.08,79.73 L62.25,79.36 L62.43,78.99 L62.63,78.62 L62.84,78.25 L63.06,77.87 L63.30,77.48 L63.61,77.00 L63.95,76.53 L64.31,76.05 L64.69,75.58 L65.08,75.10 L65.50,74.63 L65.92,74.15 L66.36,73.68 L66.81,73.20 L67.26,72.73 L67.72,72.26 L68.19,71.78 L68.72,71.24 L69.28,70.69 L69.86,70.14 L70.44,69.58 L71.04,69.02 L71.66,68.46 L72.27,67.92 L72.90,67.38 L73.53,66.85 L74.15,66.34 L74.78,65.85 L75.40,65.38 L75.98,64.97 L76.55,64.57 L77.11,64.18 L77.68,63.80 L78.25,63.43 L78.83,63.08 L79.41,62.73 L80.01,62.39 L80.61,62.06 L81.23,61.73 L81.86,61.41 L82.51,61.10 L83.26,60.74 L84.04,60.39 L84.85,60.03 L85.67,59.69 L86.51,59.35 L87.35,59.02 L88.20,58.71 L89.06,58.42 L89.91,58.15 L90.75,57.91 L91.58,57.70 L92.39,57.51 L93.11,57.37 L93.81,57.26 L94.51,57.16 L95.20,57.08 L95.88,57.02 L96.57,56.98 L97.26,56.95 L97.96,56.94 L98.67,56.94 L99.39,56.95 L100.14,56.97 L100.91,57.00 L101.90,57.05 L102.92,57.12 L103.96,57.21 L105.03,57.33 L106.12,57.46 L107.22,57.61 L108.33,57.78 L109.45,57.97 L110.57,58.18 L111.68,58.40 L112.79,58.65 L113.89,58.92 L115.07,59.23 L116.27,59.57 L117.49,59.94 L118.71,60.33 L119.93,60.74 L121.15,61.18 L122.36,61.63 L123.55,62.10 L124.72,62.59 L125.86,63.08 L126.96,63.59 L128.02,64.10 L128.91,64.57 L129.79,65.05 L130.65,65.56 L131.49,66.07 L132.31,66.60 L133.12,67.14 L133.91,67.68 L134.68,68.22 L135.43,68.75 L136.16,69.29 L136.87,69.81 L137.56,70.31 L138.10,70.70 L138.63,71.08 L139.13,71.44 L139.63,71.80 L140.11,72.15 L140.58,72.51 L141.04,72.87 L141.50,73.25 L141.95,73.64 L142.39,74.06 L142.84,74.51 L143.29,74.98 L143.84,75.61 L144.39,76.27 L144.94,76.96 L145.48,77.69 L146.02,78.44 L146.54,79.21 L147.06,80.00 L147.56,80.82 L148.05,81.65 L148.52,82.49 L148.97,83.34 L149.40,84.20 L149.85,85.16 L150.27,86.15 L150.66,87.15 L151.03,88.17 L151.39,89.22 L151.72,90.28 L152.05,91.36 L152.37,92.45 L152.68,93.57 L152.98,94.70 L153.29,95.84 L153.60,97.00 L153.95,98.37 L154.29,99.74 L154.61,101.14 L154.92,102.55 L155.22,103.98 L155.52,105.44 L155.81,106.93 L156.11,108.46 L156.40,110.02 L156.71,111.63 L157.02,113.28 L157.34,114.98 L157.79,117.42 L158.23,120.02 L158.66,122.75 L159.10,125.59 L159.55,128.50 L160.01,131.45 L160.48,134.40 L160.96,137.32 L161.47,140.18 L162.00,142.95 L162.56,145.59 L163.15,148.07 L163.63,149.97 L164.12,151.86 L164.63,153.73 L165.14,155.58 L165.67,157.39 L166.21,159.16 L166.77,160.86 L167.35,162.48 L167.94,164.03 L168.55,165.48 L169.18,166.82 L169.83,168.04 L170.24,168.76 L170.66,169.43 L171.08,170.07 L171.50,170.68 L171.93,171.25 L172.36,171.78 L172.82,172.29 L173.28,172.77 L173.77,173.22 L174.27,173.65 L174.81,174.06 L175.36,174.44 L175.97,174.79 L176.60,175.10 L177.27,175.36 L177.96,175.59 L178.67,175.79 L179.39,175.97 L180.12,176.14 L180.86,176.29 L181.60,176.45 L182.33,176.62 L183.05,176.80 L183.76,177.00" fill="none" stroke="#ff00ff" stroke-width="1.3" stroke-linejoin="round"/>
<polygon points="59.71,90.68 62.29,93.80 59.71,96.92 57.13,93.80" fill="#ff00ff"/><polygon points="63.45,74.13 66.03,77.25 63.45,80.36 60.87,77.25" fill="#ff00ff"/><polygon points="67.19,69.68 69.77,72.80 67.19,75.92 64.61,72.80" fill="#ff00ff"/><polygon points="70.94,66.00 73.52,69.12 70.94,72.24 68.36,69.12" fill="#ff00ff"/><polygon points="74.68,62.82 77.26,65.93 74.68,69.05 72.10,65.93" fill="#ff00ff"/><polygon points="78.42,60.21 81.00,63.33 78.42,66.45 75.84,63.33" fill="#ff00ff"/><polygon points="82.16,58.15 84.74,61.26 82.16,64.38 79.58,61.26" fill="#ff00ff"/><polygon points="85.90,56.47 88.48,59.59 85.90,62.71 83.32,59.59" fill="#ff00ff"/><polygon points="89.65,55.12 92.23,58.24 89.65,61.35 87.07,58.24" fill="#ff00ff"/><polygon points="93.39,54.21 95.97,57.33 93.39,60.45 90.81,57.33" fill="#ff00ff"/><polygon points="97.13,53.84 99.71,56.96 97.13,60.08 94.55,56.96" fill="#ff00ff"/><polygon points="100.87,53.88 103.45,57.00 100.87,60.12 98.29,57.00" fill="#ff00ff"/><polygon points="104.61,54.17 107.19,57.28 104.61,60.40 102.03,57.28" fill="#ff00ff"/><polygon points="108.35,54.66 110.93,57.78 108.35,60.90 105.77,57.78" fill="#ff00ff"/><polygon points="112.10,55.38 114.68,58.50 112.10,61.61 109.52,58.50" fill="#ff00ff"/><polygon points="115.84,56.33 118.42,59.45 115.84,62.57 113.26,59.45" fill="#ff00ff"/><polygon points="119.58,57.51 122.16,60.63 119.58,63.74 117.00,60.63" fill="#ff00ff"/><polygon points="123.32,58.89 125.90,62.01 123.32,65.13 120.74,62.01" fill="#ff00ff"/><polygon points="127.06,60.52 129.64,63.64 127.06,66.76 124.48,63.64" fill="#ff00ff"/><polygon points="130.81,62.54 133.39,65.65 130.81,68.77 128.23,65.65" fill="#ff00ff"/><polygon points="134.55,65.01 137.13,68.13 134.55,71.24 131.97,68.13" fill="#ff00ff"/><polygon points="138.29,67.72 140.87,70.84 138.29,73.95 135.71,70.84" fill="#ff00ff"/><polygon points="142.03,70.60 144.61,73.72 142.03,76.84 139.45,73.72" fill="#ff00ff"/><polygon points="145.77,74.98 148.35,78.09 145.77,81.21 143.19,78.09" fill="#ff00ff"/><polygon points="149.51,81.33 152.09,84.45 149.51,87.56 146.93,84.45" fill="#ff00ff"/><polygon points="153.26,92.60 155.84,95.71 153.26,98.83 150.68,95.71" fill="#ff00ff"/><polygon points="157.00,110.06 159.58,113.18 157.00,116.30 154.42,113.18" fill="#ff00ff"/><polygon points="160.74,132.87 163.32,135.99 160.74,139.11 158.16,135.99" fill="#ff00ff"/><polygon points="164.48,150.08 167.06,153.19 164.48,156.31 161.90,153.19" fill="#ff00ff"/><polygon points="168.22,161.59 170.80,164.71 168.22,167.82 165.64,164.71" fill="#ff00ff"/><polygon points="171.97,168.18 174.55,171.29 171.97,174.41 169.39,171.29" fill="#ff00ff"/><polygon points="175.71,171.52 178.29,174.64 175.71,177.76 173.13,174.64" fill="#ff00ff"/><polygon points="179.45,172.87 182.03,175.98 179.45,179.10 176.87,175.98" fill="#ff00ff"/><polygon points="183.19,173.72 185.77,176.84 183.19,179.96 180.61,176.84" fill="#ff00ff"/>
<rect x="324.40" y="18.80" width="210.00" height="158.20" fill="none" stroke="#727272" stroke-width="1.4"/>
<path d="M324.40,177.00v3.2M362.58,177.00v3.2M400.76,177.00v3.2M438.95,177.00v3.2M477.13,177.00v3.2M515.31,177.00v3.2M343.49,177.00v1.8M381.67,177.00v1.8M419.85,177.00v1.8M458.04,177.00v1.8M496.22,177.00v1.8M534.40,177.00v1.8M324.40,177.00h-3.2M324.40,145.36h-3.2M324.40,113.72h-3.2M324.40,82.08h-3.2M324.40,50.44h-3.2M324.40,18.80h-3.2M324.40,161.18h-1.8M324.40,129.54h-1.8M324.40,97.90h-1.8M324.40,66.26h-1.8M324.40,34.62h-1.8" stroke="#727272" stroke-width="1.1" fill="none"/>
<text x="324.40" y="190.60" font-size="11.0" text-anchor="middle" >0</text>
<text x="362.58" y="190.60" font-size="11.0" text-anchor="middle" >10</text>
<text x="400.76" y="190.60" font-size="11.0" text-anchor="middle" >20</text>
<text x="438.95" y="190.60" font-size="11.0" text-anchor="middle" >30</text>
<text x="477.13" y="190.60" font-size="11.0" text-anchor="middle" >40</text>
<text x="515.31" y="190.60" font-size="11.0" text-anchor="middle" >50</text>
<text x="319.60" y="180.60" font-size="11.0" text-anchor="end" >0</text>
<text x="319.60" y="148.96" font-size="11.0" text-anchor="end" >50</text>
<text x="319.60" y="117.32" font-size="11.0" text-anchor="end" >100</text>
<text x="319.60" y="85.68" font-size="11.0" text-anchor="end" >150</text>
<text x="319.60" y="54.04" font-size="11.0" text-anchor="end" >200</text>
<text x="319.60" y="22.40" font-size="11.0" text-anchor="end" >250</text>
<path d="M324.40,177.00 L324.52,175.70 L324.64,174.42 L324.77,173.16 L324.90,171.91 L325.03,170.66 L325.15,169.40 L325.28,168.13 L325.40,166.82 L325.51,165.49 L325.62,164.11 L325.72,162.67 L325.81,161.18 L325.92,159.02 L326.01,156.74 L326.08,154.35 L326.14,151.87 L326.19,149.33 L326.24,146.74 L326.28,144.13 L326.31,141.52 L326.35,138.92 L326.39,136.36 L326.44,133.86 L326.50,131.44 L326.55,129.25 L326.60,127.06 L326.64,124.88 L326.67,122.71 L326.71,120.55 L326.75,118.41 L326.80,116.29 L326.86,114.20 L326.93,112.13 L327.02,110.10 L327.13,108.09 L327.26,106.13 L327.38,104.42 L327.50,102.68 L327.61,100.92 L327.72,99.16 L327.84,97.42 L327.98,95.72 L328.15,94.08 L328.34,92.51 L328.57,91.04 L328.83,89.69 L329.15,88.46 L329.52,87.40 L329.74,86.89 L329.97,86.42 L330.21,85.99 L330.47,85.60 L330.73,85.23 L331.00,84.89 L331.29,84.56 L331.58,84.25 L331.87,83.94 L332.18,83.64 L332.49,83.34 L332.80,83.03 L333.11,82.73 L333.44,82.44 L333.77,82.17 L334.11,81.91 L334.46,81.65 L334.81,81.40 L335.17,81.16 L335.53,80.91 L335.90,80.67 L336.26,80.43 L336.63,80.18 L337.00,79.93 L337.39,79.65 L337.79,79.38 L338.18,79.09 L338.58,78.81 L338.98,78.53 L339.39,78.25 L339.80,77.98 L340.22,77.71 L340.64,77.44 L341.07,77.19 L341.51,76.94 L341.96,76.70 L342.46,76.46 L342.97,76.22 L343.48,75.99 L344.01,75.77 L344.55,75.56 L345.09,75.36 L345.63,75.16 L346.18,74.97 L346.74,74.78 L347.30,74.59 L347.86,74.41 L348.42,74.23 L349.00,74.05 L349.59,73.87 L350.19,73.70 L350.79,73.53 L351.40,73.37 L352.00,73.22 L352.61,73.07 L353.23,72.92 L353.85,72.78 L354.47,72.65 L355.09,72.52 L355.71,72.40 L356.35,72.28 L356.98,72.17 L357.61,72.07 L358.24,71.97 L358.87,71.88 L359.51,71.80 L360.16,71.72 L360.81,71.64 L361.49,71.57 L362.17,71.51 L362.88,71.45 L363.61,71.39 L364.59,71.31 L365.61,71.23 L366.68,71.15 L367.77,71.08 L368.88,71.01 L370.01,70.96 L371.15,70.91 L372.29,70.89 L373.43,70.88 L374.54,70.89 L375.64,70.94 L376.71,71.01 L377.69,71.10 L378.66,71.22 L379.62,71.36 L380.56,71.51 L381.51,71.69 L382.44,71.88 L383.38,72.09 L384.32,72.30 L385.27,72.52 L386.22,72.75 L387.19,72.99 L388.16,73.22 L389.25,73.48 L390.37,73.76 L391.50,74.05 L392.65,74.35 L393.80,74.67 L394.95,74.99 L396.09,75.31 L397.23,75.65 L398.34,75.99 L399.44,76.33 L400.50,76.67 L401.53,77.02 L402.38,77.31 L403.21,77.60 L404.02,77.89 L404.82,78.18 L405.60,78.48 L406.37,78.78 L407.14,79.09 L407.90,79.40 L408.65,79.73 L409.41,80.08 L410.16,80.44 L410.92,80.81 L411.71,81.23 L412.51,81.67 L413.31,82.13 L414.12,82.61 L414.92,83.10 L415.72,83.60 L416.50,84.11 L417.26,84.61 L417.99,85.10 L418.70,85.59 L419.37,86.06 L420.01,86.51 L420.44,86.82 L420.85,87.12 L421.24,87.41 L421.61,87.69 L421.96,87.97 L422.31,88.25 L422.66,88.54 L423.00,88.83 L423.34,89.13 L423.70,89.44 L424.06,89.77 L424.44,90.12 L424.93,90.58 L425.43,91.06 L425.94,91.56 L426.45,92.08 L426.97,92.61 L427.50,93.16 L428.02,93.71 L428.54,94.28 L429.05,94.86 L429.56,95.45 L430.06,96.04 L430.55,96.63 L431.05,97.27 L431.54,97.90 L432.03,98.54 L432.50,99.18 L432.97,99.84 L433.44,100.50 L433.90,101.19 L434.37,101.89 L434.84,102.62 L435.31,103.38 L435.79,104.17 L436.27,104.99 L436.96,106.18 L437.67,107.45 L438.40,108.79 L439.13,110.18 L439.88,111.62 L440.62,113.09 L441.35,114.59 L442.07,116.10 L442.76,117.61 L443.44,119.12 L444.07,120.61 L444.67,122.07 L445.21,123.48 L445.72,124.91 L446.19,126.34 L446.65,127.78 L447.08,129.22 L447.50,130.66 L447.91,132.11 L448.31,133.54 L448.72,134.97 L449.14,136.38 L449.57,137.78 L450.02,139.16 L450.45,140.45 L450.89,141.75 L451.33,143.05 L451.78,144.34 L452.23,145.63 L452.68,146.91 L453.13,148.17 L453.58,149.40 L454.02,150.61 L454.47,151.79 L454.92,152.93 L455.36,154.03 L455.71,154.88 L456.05,155.71 L456.39,156.52 L456.73,157.32 L457.06,158.10 L457.40,158.86 L457.74,159.60 L458.09,160.33 L458.44,161.04 L458.80,161.74 L459.18,162.42 L459.56,163.08 L459.91,163.63 L460.26,164.16 L460.62,164.68 L460.98,165.19 L461.35,165.68 L461.73,166.17 L462.11,166.64 L462.49,167.10 L462.87,167.56 L463.25,168.01 L463.62,168.46 L463.99,168.90 L464.32,169.29 L464.64,169.69 L464.96,170.08 L465.28,170.46 L465.60,170.84 L465.92,171.22 L466.24,171.58 L466.57,171.93 L466.91,172.27 L467.25,172.60 L467.60,172.91 L467.96,173.20 L468.32,173.46 L468.68,173.71 L469.05,173.94 L469.43,174.16 L469.82,174.37 L470.21,174.56 L470.60,174.75 L470.99,174.93 L471.38,175.11 L471.77,175.28 L472.16,175.45 L472.55,175.61 L472.90,175.75 L473.25,175.89 L473.60,176.01 L473.95,176.13 L474.30,176.24 L474.65,176.35 L475.00,176.46 L475.35,176.57 L475.70,176.67 L476.05,176.78 L476.40,176.89 L476.75,177.00" fill="none" stroke="#000000" stroke-width="1.8" stroke-linejoin="round"/>
<path d="M327.26,130.81 L327.28,128.84 L327.30,126.87 L327.31,124.88 L327.33,122.88 L327.34,120.88 L327.36,118.90 L327.37,116.92 L327.39,114.96 L327.40,113.02 L327.42,111.11 L327.44,109.23 L327.45,107.39 L327.45,105.81 L327.43,104.24 L327.38,102.68 L327.33,101.13 L327.28,99.59 L327.24,98.08 L327.21,96.59 L327.21,95.13 L327.25,93.71 L327.33,92.32 L327.46,90.98 L327.65,89.67 L327.84,88.66 L328.07,87.65 L328.33,86.67 L328.62,85.70 L328.93,84.75 L329.26,83.83 L329.60,82.93 L329.95,82.06 L330.31,81.22 L330.67,80.42 L331.03,79.65 L331.39,78.92 L331.64,78.41 L331.90,77.93 L332.16,77.47 L332.42,77.03 L332.69,76.60 L332.96,76.19 L333.24,75.79 L333.52,75.40 L333.80,75.01 L334.10,74.63 L334.40,74.24 L334.71,73.85 L335.02,73.47 L335.33,73.08 L335.63,72.70 L335.94,72.32 L336.26,71.95 L336.59,71.58 L336.92,71.22 L337.28,70.87 L337.65,70.52 L338.04,70.19 L338.46,69.86 L338.91,69.55 L339.54,69.15 L340.22,68.77 L340.94,68.40 L341.70,68.04 L342.49,67.70 L343.30,67.37 L344.14,67.06 L344.99,66.76 L345.85,66.49 L346.71,66.22 L347.57,65.98 L348.42,65.75 L349.32,65.54 L350.25,65.34 L351.20,65.17 L352.17,65.02 L353.14,64.89 L354.12,64.77 L355.10,64.67 L356.07,64.59 L357.03,64.51 L357.98,64.45 L358.90,64.40 L359.79,64.36 L360.55,64.33 L361.28,64.31 L362.01,64.30 L362.73,64.30 L363.44,64.31 L364.14,64.33 L364.83,64.36 L365.53,64.40 L366.22,64.45 L366.91,64.51 L367.61,64.59 L368.31,64.68 L369.02,64.77 L369.72,64.87 L370.42,64.98 L371.13,65.09 L371.83,65.21 L372.53,65.35 L373.22,65.51 L373.92,65.68 L374.62,65.88 L375.32,66.11 L376.01,66.36 L376.71,66.64 L377.51,67.00 L378.32,67.41 L379.13,67.85 L379.94,68.33 L380.75,68.84 L381.56,69.37 L382.36,69.92 L383.16,70.50 L383.95,71.09 L384.73,71.69 L385.50,72.29 L386.25,72.90 L387.04,73.56 L387.81,74.24 L388.58,74.94 L389.34,75.67 L390.09,76.41 L390.84,77.16 L391.57,77.93 L392.29,78.70 L393.00,79.47 L393.69,80.24 L394.37,81.01 L395.04,81.76 L395.63,82.46 L396.21,83.14 L396.78,83.82 L397.32,84.50 L397.86,85.18 L398.39,85.87 L398.92,86.57 L399.44,87.28 L399.95,88.00 L400.47,88.74 L401.00,89.51 L401.53,90.31 L402.17,91.29 L402.83,92.32 L403.49,93.39 L404.16,94.49 L404.83,95.61 L405.49,96.75 L406.14,97.89 L406.77,99.03 L407.38,100.17 L407.96,101.29 L408.50,102.40 L409.01,103.47 L409.41,104.37 L409.79,105.25 L410.14,106.12 L410.48,106.99 L410.80,107.85 L411.10,108.70 L411.39,109.56 L411.68,110.42 L411.95,111.29 L412.23,112.17 L412.51,113.06 L412.79,113.97 L413.09,114.96 L413.39,115.97 L413.67,116.99 L413.96,118.01 L414.23,119.05 L414.50,120.09 L414.77,121.13 L415.03,122.18 L415.29,123.23 L415.54,124.28 L415.79,125.33 L416.04,126.38 L416.28,127.43 L416.51,128.49 L416.74,129.55 L416.96,130.62 L417.18,131.69 L417.40,132.76 L417.61,133.82 L417.82,134.89 L418.04,135.94 L418.26,136.98 L418.48,138.01 L418.71,139.03 L418.92,139.96 L419.13,140.86 L419.34,141.76 L419.55,142.64 L419.76,143.52 L419.98,144.39 L420.19,145.26 L420.41,146.14 L420.64,147.03 L420.88,147.93 L421.13,148.85 L421.38,149.79 L421.69,150.90 L422.01,152.07 L422.34,153.27 L422.68,154.49 L423.04,155.73 L423.39,156.96 L423.76,158.18 L424.12,159.38 L424.49,160.53 L424.86,161.64 L425.22,162.68 L425.58,163.65 L425.83,164.28 L426.07,164.89 L426.31,165.49 L426.55,166.06 L426.79,166.61 L427.04,167.14 L427.28,167.66 L427.54,168.16 L427.80,168.65 L428.06,169.13 L428.34,169.59 L428.64,170.04 L428.89,170.41 L429.14,170.77 L429.40,171.12 L429.66,171.45 L429.92,171.78 L430.19,172.10 L430.47,172.40 L430.76,172.70 L431.07,172.99 L431.38,173.28 L431.72,173.56 L432.07,173.84 L432.52,174.15 L433.00,174.45 L433.51,174.73 L434.04,175.00 L434.59,175.26 L435.15,175.51 L435.73,175.76 L436.30,176.00 L436.88,176.24 L437.45,176.49 L438.01,176.74 L438.56,177.00" fill="none" stroke="#ff0000" stroke-width="1.3" stroke-linejoin="round"/>
<rect x="325.39" y="87.42" width="4.51" height="4.51" fill="#ff0000"/><rect x="329.13" y="76.66" width="4.51" height="4.51" fill="#ff0000"/><rect x="332.87" y="71.07" width="4.51" height="4.51" fill="#ff0000"/><rect x="336.61" y="67.32" width="4.51" height="4.51" fill="#ff0000"/><rect x="340.36" y="65.39" width="4.51" height="4.51" fill="#ff0000"/><rect x="344.10" y="64.07" width="4.51" height="4.51" fill="#ff0000"/><rect x="347.84" y="63.12" width="4.51" height="4.51" fill="#ff0000"/><rect x="351.58" y="62.55" width="4.51" height="4.51" fill="#ff0000"/><rect x="355.32" y="62.22" width="4.51" height="4.51" fill="#ff0000"/><rect x="359.06" y="62.06" width="4.51" height="4.51" fill="#ff0000"/><rect x="362.81" y="62.12" width="4.51" height="4.51" fill="#ff0000"/><rect x="366.55" y="62.49" width="4.51" height="4.51" fill="#ff0000"/><rect x="370.29" y="63.10" width="4.51" height="4.51" fill="#ff0000"/><rect x="374.03" y="64.21" width="4.51" height="4.51" fill="#ff0000"/><rect x="377.77" y="66.13" width="4.51" height="4.51" fill="#ff0000"/><rect x="381.52" y="68.70" width="4.51" height="4.51" fill="#ff0000"/><rect x="385.26" y="71.72" width="4.51" height="4.51" fill="#ff0000"/><rect x="389.00" y="75.34" width="4.51" height="4.51" fill="#ff0000"/><rect x="392.74" y="79.46" width="4.51" height="4.51" fill="#ff0000"/><rect x="396.48" y="84.08" width="4.51" height="4.51" fill="#ff0000"/><rect x="400.22" y="89.52" width="4.51" height="4.51" fill="#ff0000"/><rect x="403.97" y="95.78" width="4.51" height="4.51" fill="#ff0000"/><rect x="407.71" y="103.42" width="4.51" height="4.51" fill="#ff0000"/><rect x="411.45" y="114.85" width="4.51" height="4.51" fill="#ff0000"/><rect x="415.19" y="130.77" width="4.51" height="4.51" fill="#ff0000"/><rect x="418.93" y="146.83" width="4.51" height="4.51" fill="#ff0000"/><rect x="422.68" y="159.60" width="4.51" height="4.51" fill="#ff0000"/><rect x="426.42" y="167.84" width="4.51" height="4.51" fill="#ff0000"/><rect x="430.16" y="171.82" width="4.51" height="4.51" fill="#ff0000"/><rect x="433.90" y="173.68" width="4.51" height="4.51" fill="#ff0000"/><rect x="325.01" y="128.55" width="4.51" height="4.51" fill="#ff0000"/>
<path d="M324.40,177.00 L324.52,175.70 L324.64,174.42 L324.77,173.16 L324.90,171.91 L325.03,170.66 L325.15,169.40 L325.28,168.13 L325.40,166.82 L325.51,165.49 L325.62,164.11 L325.72,162.67 L325.81,161.18 L325.92,159.03 L326.02,156.77 L326.10,154.42 L326.17,151.98 L326.23,149.48 L326.28,146.93 L326.32,144.35 L326.36,141.74 L326.40,139.14 L326.43,136.54 L326.46,133.97 L326.50,131.44 L326.50,128.78 L326.44,125.94 L326.34,123.00 L326.22,119.99 L326.09,116.97 L325.98,114.01 L325.90,111.15 L325.87,108.46 L325.92,105.99 L326.06,103.79 L326.31,101.92 L326.69,100.43 L326.87,99.98 L327.07,99.59 L327.28,99.24 L327.50,98.95 L327.73,98.68 L327.97,98.43 L328.22,98.20 L328.48,97.97 L328.74,97.73 L329.00,97.48 L329.26,97.20 L329.52,96.89 L329.85,96.44 L330.18,95.97 L330.53,95.47 L330.87,94.96 L331.22,94.43 L331.58,93.90 L331.95,93.37 L332.33,92.85 L332.71,92.34 L333.11,91.85 L333.52,91.38 L333.95,90.94 L334.37,90.53 L334.80,90.14 L335.25,89.76 L335.70,89.39 L336.17,89.04 L336.64,88.69 L337.12,88.36 L337.61,88.03 L338.12,87.72 L338.63,87.41 L339.14,87.11 L339.67,86.83 L340.25,86.53 L340.84,86.24 L341.45,85.97 L342.06,85.71 L342.69,85.46 L343.33,85.22 L343.97,84.99 L344.63,84.77 L345.29,84.56 L345.96,84.36 L346.63,84.16 L347.31,83.98 L348.06,83.79 L348.82,83.61 L349.59,83.45 L350.38,83.30 L351.17,83.16 L351.97,83.02 L352.78,82.90 L353.59,82.79 L354.40,82.68 L355.22,82.58 L356.04,82.49 L356.85,82.40 L357.71,82.31 L358.57,82.23 L359.43,82.16 L360.30,82.09 L361.17,82.04 L362.05,81.99 L362.93,81.95 L363.81,81.92 L364.69,81.89 L365.56,81.86 L366.44,81.84 L367.32,81.83 L368.19,81.81 L369.08,81.80 L369.96,81.80 L370.85,81.80 L371.73,81.80 L372.62,81.81 L373.50,81.83 L374.38,81.86 L375.26,81.90 L376.13,81.95 L377.00,82.01 L377.85,82.08 L378.67,82.16 L379.48,82.25 L380.28,82.35 L381.08,82.45 L381.88,82.57 L382.67,82.69 L383.46,82.83 L384.25,82.97 L385.04,83.13 L385.83,83.30 L386.61,83.47 L387.40,83.66 L388.20,83.86 L389.01,84.08 L389.81,84.30 L390.61,84.53 L391.41,84.77 L392.21,85.02 L393.01,85.29 L393.80,85.57 L394.59,85.86 L395.38,86.17 L396.16,86.49 L396.95,86.83 L397.76,87.20 L398.58,87.61 L399.39,88.03 L400.21,88.48 L401.02,88.94 L401.83,89.41 L402.63,89.89 L403.43,90.37 L404.21,90.85 L404.98,91.31 L405.74,91.77 L406.49,92.20 L407.14,92.57 L407.79,92.92 L408.44,93.26 L409.08,93.59 L409.71,93.92 L410.34,94.25 L410.95,94.58 L411.55,94.93 L412.13,95.29 L412.69,95.67 L413.23,96.08 L413.75,96.51 L414.21,96.94 L414.65,97.37 L415.07,97.81 L415.48,98.26 L415.87,98.73 L416.25,99.21 L416.61,99.71 L416.96,100.23 L417.31,100.78 L417.65,101.35 L417.99,101.95 L418.33,102.58 L418.79,103.53 L419.22,104.55 L419.64,105.62 L420.03,106.75 L420.41,107.93 L420.78,109.15 L421.14,110.40 L421.50,111.68 L421.85,112.97 L422.20,114.27 L422.55,115.58 L422.91,116.88 L423.33,118.44 L423.74,120.06 L424.14,121.72 L424.54,123.42 L424.93,125.14 L425.32,126.88 L425.71,128.62 L426.09,130.35 L426.48,132.06 L426.88,133.73 L427.28,135.37 L427.68,136.94 L428.03,138.28 L428.38,139.59 L428.72,140.88 L429.05,142.15 L429.39,143.41 L429.74,144.65 L430.09,145.88 L430.45,147.10 L430.83,148.32 L431.22,149.53 L431.63,150.73 L432.07,151.94 L432.53,153.14 L433.01,154.35 L433.51,155.57 L434.03,156.78 L434.56,157.99 L435.10,159.19 L435.65,160.37 L436.20,161.52 L436.76,162.64 L437.31,163.72 L437.87,164.75 L438.41,165.74 L438.82,166.47 L439.22,167.18 L439.61,167.88 L440.00,168.56 L440.39,169.23 L440.78,169.87 L441.19,170.49 L441.61,171.08 L442.05,171.66 L442.51,172.20 L443.00,172.72 L443.53,173.20 L444.07,173.64 L444.65,174.03 L445.25,174.39 L445.88,174.72 L446.52,175.03 L447.18,175.31 L447.85,175.59 L448.52,175.86 L449.19,176.13 L449.86,176.41 L450.52,176.69 L451.16,177.00" fill="none" stroke="#00e600" stroke-width="1.3" stroke-linejoin="round"/>
<circle cx="326.69" cy="100.43" r="2.47" fill="#00e600"/><circle cx="330.43" cy="95.61" r="2.47" fill="#00e600"/><circle cx="334.17" cy="90.72" r="2.47" fill="#00e600"/><circle cx="337.92" cy="87.84" r="2.47" fill="#00e600"/><circle cx="341.66" cy="85.88" r="2.47" fill="#00e600"/><circle cx="345.40" cy="84.52" r="2.47" fill="#00e600"/><circle cx="349.14" cy="83.54" r="2.47" fill="#00e600"/><circle cx="352.88" cy="82.89" r="2.47" fill="#00e600"/><circle cx="356.63" cy="82.42" r="2.47" fill="#00e600"/><circle cx="360.37" cy="82.09" r="2.47" fill="#00e600"/><circle cx="364.11" cy="81.91" r="2.47" fill="#00e600"/><circle cx="367.85" cy="81.82" r="2.47" fill="#00e600"/><circle cx="371.59" cy="81.80" r="2.47" fill="#00e600"/><circle cx="375.33" cy="81.90" r="2.47" fill="#00e600"/><circle cx="379.08" cy="82.21" r="2.47" fill="#00e600"/><circle cx="382.82" cy="82.72" r="2.47" fill="#00e600"/><circle cx="386.56" cy="83.46" r="2.47" fill="#00e600"/><circle cx="390.30" cy="84.44" r="2.47" fill="#00e600"/><circle cx="394.04" cy="85.66" r="2.47" fill="#00e600"/><circle cx="397.79" cy="87.21" r="2.47" fill="#00e600"/><circle cx="401.53" cy="89.24" r="2.47" fill="#00e600"/><circle cx="405.27" cy="91.48" r="2.47" fill="#00e600"/><circle cx="409.01" cy="93.55" r="2.47" fill="#00e600"/><circle cx="412.75" cy="95.72" r="2.47" fill="#00e600"/><circle cx="416.49" cy="99.55" r="2.47" fill="#00e600"/><circle cx="420.24" cy="107.38" r="2.47" fill="#00e600"/><circle cx="423.98" cy="121.05" r="2.47" fill="#00e600"/><circle cx="427.72" cy="137.09" r="2.47" fill="#00e600"/><circle cx="431.46" cy="150.23" r="2.47" fill="#00e600"/><circle cx="435.20" cy="159.42" r="2.47" fill="#00e600"/><circle cx="438.95" cy="166.69" r="2.47" fill="#00e600"/><circle cx="442.69" cy="172.39" r="2.47" fill="#00e600"/><circle cx="446.43" cy="174.98" r="2.47" fill="#00e600"/><circle cx="450.17" cy="176.54" r="2.47" fill="#00e600"/><circle cx="325.81" cy="161.18" r="2.47" fill="#00e600"/>
<path d="M328.03,132.07 L328.04,129.99 L328.06,127.88 L328.07,125.73 L328.08,123.58 L328.10,121.43 L328.11,119.29 L328.13,117.17 L328.14,115.09 L328.16,113.06 L328.18,111.09 L328.20,109.20 L328.22,107.39 L328.22,106.10 L328.20,104.84 L328.17,103.62 L328.13,102.43 L328.09,101.26 L328.06,100.12 L328.05,99.01 L328.06,97.90 L328.10,96.82 L328.18,95.74 L328.30,94.67 L328.49,93.60 L328.70,92.61 L328.95,91.63 L329.23,90.66 L329.55,89.70 L329.89,88.75 L330.25,87.82 L330.64,86.89 L331.04,85.99 L331.47,85.09 L331.90,84.22 L332.35,83.36 L332.80,82.52 L333.23,81.75 L333.66,80.98 L334.10,80.22 L334.55,79.47 L335.02,78.73 L335.50,78.01 L336.00,77.31 L336.53,76.64 L337.08,75.99 L337.65,75.37 L338.26,74.78 L338.91,74.23 L339.62,73.70 L340.37,73.21 L341.15,72.75 L341.97,72.33 L342.81,71.93 L343.68,71.57 L344.56,71.22 L345.47,70.90 L346.39,70.59 L347.33,70.30 L348.27,70.01 L349.22,69.74 L350.32,69.44 L351.47,69.16 L352.64,68.90 L353.85,68.67 L355.07,68.45 L356.31,68.26 L357.55,68.09 L358.79,67.95 L360.02,67.83 L361.24,67.74 L362.44,67.68 L363.61,67.65 L364.68,67.65 L365.76,67.68 L366.84,67.73 L367.91,67.81 L368.98,67.91 L370.04,68.03 L371.08,68.18 L372.11,68.33 L373.11,68.51 L374.09,68.70 L375.03,68.90 L375.95,69.11 L376.66,69.29 L377.34,69.48 L378.00,69.67 L378.65,69.88 L379.28,70.10 L379.89,70.33 L380.51,70.57 L381.11,70.83 L381.72,71.09 L382.33,71.37 L382.95,71.65 L383.58,71.96 L384.29,72.31 L385.01,72.68 L385.74,73.08 L386.47,73.49 L387.21,73.92 L387.94,74.36 L388.66,74.80 L389.37,75.25 L390.06,75.70 L390.73,76.15 L391.37,76.59 L391.98,77.02 L392.45,77.36 L392.91,77.69 L393.35,78.03 L393.78,78.36 L394.19,78.69 L394.60,79.02 L395.00,79.36 L395.39,79.70 L395.78,80.05 L396.17,80.40 L396.55,80.76 L396.95,81.13 L397.35,81.51 L397.74,81.89 L398.12,82.26 L398.50,82.63 L398.88,83.01 L399.26,83.40 L399.63,83.80 L400.00,84.22 L400.38,84.67 L400.76,85.14 L401.14,85.65 L401.53,86.19 L402.13,87.11 L402.75,88.13 L403.37,89.23 L403.99,90.39 L404.62,91.61 L405.25,92.88 L405.88,94.17 L406.51,95.49 L407.14,96.81 L407.77,98.12 L408.39,99.42 L409.01,100.68 L409.66,101.99 L410.34,103.30 L411.02,104.62 L411.70,105.95 L412.39,107.28 L413.07,108.63 L413.73,109.97 L414.37,111.32 L414.99,112.68 L415.57,114.03 L416.11,115.40 L416.61,116.76 L417.04,118.06 L417.42,119.36 L417.77,120.65 L418.08,121.95 L418.37,123.24 L418.65,124.55 L418.91,125.87 L419.16,127.19 L419.41,128.54 L419.67,129.90 L419.94,131.29 L420.24,132.70 L420.58,134.40 L420.91,136.17 L421.24,138.00 L421.56,139.88 L421.89,141.77 L422.21,143.67 L422.55,145.56 L422.89,147.40 L423.25,149.19 L423.62,150.91 L424.02,152.52 L424.44,154.03 L424.74,155.05 L425.05,156.04 L425.37,157.01 L425.69,157.96 L426.01,158.87 L426.35,159.75 L426.69,160.60 L427.05,161.42 L427.42,162.21 L427.81,162.96 L428.21,163.67 L428.64,164.34 L428.98,164.82 L429.33,165.26 L429.70,165.67 L430.07,166.05 L430.46,166.41 L430.85,166.76 L431.25,167.10 L431.64,167.44 L432.04,167.79 L432.44,168.14 L432.83,168.51 L433.22,168.90 L433.62,169.35 L434.02,169.82 L434.41,170.31 L434.80,170.82 L435.19,171.32 L435.59,171.83 L435.99,172.33 L436.39,172.81 L436.81,173.27 L437.25,173.71 L437.71,174.11 L438.18,174.47 L438.66,174.78 L439.17,175.05 L439.69,175.30 L440.22,175.52 L440.77,175.72 L441.32,175.91 L441.88,176.09 L442.45,176.26 L443.01,176.43 L443.57,176.61 L444.13,176.80 L444.67,177.00" fill="none" stroke="#0000ff" stroke-width="1.3" stroke-linejoin="round"/>
<polygon points="328.49,91.00 331.17,95.73 325.80,95.73" fill="#0000ff"/><polygon points="332.23,80.99 334.91,85.72 329.54,85.72" fill="#0000ff"/><polygon points="335.97,74.76 338.66,79.49 333.28,79.49" fill="#0000ff"/><polygon points="339.71,71.04 342.40,75.77 337.02,75.77" fill="#0000ff"/><polygon points="343.45,69.06 346.14,73.79 340.77,73.79" fill="#0000ff"/><polygon points="347.19,67.74 349.88,72.47 344.51,72.47" fill="#0000ff"/><polygon points="350.94,66.69 353.62,71.42 348.25,71.42" fill="#0000ff"/><polygon points="354.68,65.92 357.37,70.65 351.99,70.65" fill="#0000ff"/><polygon points="358.42,65.39 361.11,70.12 355.73,70.12" fill="#0000ff"/><polygon points="362.16,65.10 364.85,69.83 359.47,69.83" fill="#0000ff"/><polygon points="365.90,65.09 368.59,69.82 363.22,69.82" fill="#0000ff"/><polygon points="369.65,65.39 372.33,70.12 366.96,70.12" fill="#0000ff"/><polygon points="373.39,65.96 376.07,70.69 370.70,70.69" fill="#0000ff"/><polygon points="377.13,66.82 379.82,71.55 374.44,71.55" fill="#0000ff"/><polygon points="380.87,68.12 383.56,72.85 378.18,72.85" fill="#0000ff"/><polygon points="384.61,69.87 387.30,74.60 381.93,74.60" fill="#0000ff"/><polygon points="388.35,72.02 391.04,76.75 385.67,76.75" fill="#0000ff"/><polygon points="392.10,74.50 394.78,79.23 389.41,79.23" fill="#0000ff"/><polygon points="395.84,77.50 398.53,82.23 393.15,82.23" fill="#0000ff"/><polygon points="399.58,81.14 402.27,85.87 396.89,85.87" fill="#0000ff"/><polygon points="403.32,86.54 406.01,91.27 400.63,91.27" fill="#0000ff"/><polygon points="407.06,94.04 409.75,98.77 404.38,98.77" fill="#0000ff"/><polygon points="410.81,101.61 413.49,106.34 408.12,106.34" fill="#0000ff"/><polygon points="414.55,109.10 417.23,113.83 411.86,113.83" fill="#0000ff"/><polygon points="418.29,120.27 420.98,125.00 415.60,125.00" fill="#0000ff"/><polygon points="422.03,140.01 424.72,144.74 419.34,144.74" fill="#0000ff"/><polygon points="425.77,155.60 428.46,160.33 423.09,160.33" fill="#0000ff"/><polygon points="429.51,162.87 432.20,167.60 426.83,167.60" fill="#0000ff"/><polygon points="433.26,166.34 435.94,171.07 430.57,171.07" fill="#0000ff"/><polygon points="437.00,170.85 439.69,175.58 434.31,175.58" fill="#0000ff"/><polygon points="440.74,173.11 443.43,177.84 438.05,177.84" fill="#0000ff"/><polygon points="444.48,174.33 447.17,179.06 441.79,179.06" fill="#0000ff"/><polygon points="328.03,129.47 330.71,134.20 325.34,134.20" fill="#0000ff"/>
<path d="M327.84,113.72 L327.86,112.38 L327.86,111.01 L327.85,109.62 L327.83,108.21 L327.81,106.80 L327.80,105.41 L327.80,104.04 L327.83,102.70 L327.87,101.41 L327.95,100.17 L328.06,98.99 L328.22,97.90 L328.34,97.19 L328.47,96.51 L328.61,95.87 L328.75,95.24 L328.91,94.64 L329.08,94.06 L329.27,93.49 L329.48,92.93 L329.71,92.37 L329.97,91.82 L330.26,91.25 L330.59,90.69 L331.01,90.00 L331.49,89.30 L332.01,88.59 L332.57,87.88 L333.16,87.18 L333.77,86.48 L334.42,85.81 L335.07,85.17 L335.74,84.57 L336.42,84.00 L337.09,83.49 L337.76,83.03 L338.35,82.68 L338.96,82.37 L339.57,82.10 L340.19,81.86 L340.82,81.65 L341.46,81.46 L342.11,81.28 L342.76,81.12 L343.42,80.97 L344.08,80.82 L344.74,80.66 L345.40,80.50 L346.10,80.32 L346.80,80.16 L347.51,80.00 L348.22,79.85 L348.93,79.70 L349.66,79.56 L350.38,79.44 L351.11,79.32 L351.85,79.20 L352.60,79.10 L353.35,79.00 L354.11,78.92 L354.93,78.83 L355.77,78.76 L356.62,78.71 L357.48,78.66 L358.34,78.62 L359.20,78.59 L360.08,78.57 L360.95,78.56 L361.84,78.55 L362.72,78.54 L363.60,78.54 L364.49,78.54 L365.43,78.54 L366.38,78.55 L367.34,78.56 L368.31,78.58 L369.28,78.60 L370.25,78.63 L371.22,78.67 L372.19,78.71 L373.14,78.75 L374.09,78.80 L375.03,78.86 L375.95,78.92 L376.77,78.97 L377.58,79.03 L378.39,79.09 L379.18,79.16 L379.97,79.22 L380.75,79.30 L381.54,79.38 L382.32,79.46 L383.10,79.55 L383.89,79.65 L384.69,79.75 L385.49,79.87 L386.34,79.98 L387.19,80.08 L388.05,80.18 L388.92,80.29 L389.78,80.39 L390.65,80.51 L391.51,80.65 L392.38,80.82 L393.24,81.01 L394.10,81.24 L394.95,81.51 L395.80,81.83 L396.76,82.25 L397.72,82.74 L398.69,83.29 L399.65,83.88 L400.61,84.51 L401.56,85.18 L402.51,85.86 L403.45,86.56 L404.38,87.26 L405.30,87.95 L406.21,88.63 L407.10,89.29 L407.95,89.89 L408.81,90.47 L409.68,91.04 L410.54,91.60 L411.40,92.17 L412.24,92.74 L413.06,93.34 L413.85,93.96 L414.61,94.62 L415.32,95.32 L415.99,96.08 L416.61,96.89 L417.22,97.88 L417.76,98.94 L418.22,100.08 L418.63,101.27 L419.00,102.50 L419.34,103.77 L419.66,105.06 L419.97,106.35 L420.29,107.64 L420.62,108.92 L420.98,110.17 L421.38,111.38 L421.81,112.55 L422.25,113.71 L422.71,114.88 L423.17,116.05 L423.64,117.21 L424.11,118.37 L424.57,119.52 L425.03,120.67 L425.48,121.80 L425.92,122.92 L426.33,124.02 L426.73,125.11 L427.05,126.05 L427.37,126.97 L427.67,127.88 L427.96,128.79 L428.24,129.68 L428.52,130.57 L428.79,131.45 L429.06,132.33 L429.33,133.21 L429.60,134.09 L429.88,134.98 L430.16,135.87 L430.45,136.76 L430.73,137.65 L431.01,138.54 L431.29,139.42 L431.57,140.31 L431.86,141.20 L432.14,142.09 L432.42,142.97 L432.71,143.86 L433.00,144.74 L433.30,145.62 L433.60,146.50 L433.90,147.38 L434.20,148.28 L434.50,149.18 L434.80,150.09 L435.11,151.00 L435.42,151.90 L435.73,152.79 L436.05,153.66 L436.38,154.51 L436.72,155.33 L437.06,156.12 L437.42,156.88 L437.71,157.45 L438.00,158.01 L438.30,158.55 L438.60,159.07 L438.90,159.58 L439.21,160.08 L439.53,160.56 L439.85,161.04 L440.18,161.51 L440.52,161.97 L440.87,162.43 L441.24,162.89 L441.61,163.34 L442.02,163.77 L442.44,164.20 L442.87,164.62 L443.32,165.03 L443.76,165.44 L444.20,165.84 L444.64,166.24 L445.06,166.64 L445.47,167.03 L445.85,167.43 L446.20,167.82 L446.46,168.15 L446.71,168.48 L446.93,168.82 L447.15,169.15 L447.35,169.48 L447.56,169.81 L447.76,170.13 L447.96,170.45 L448.17,170.76 L448.39,171.06 L448.62,171.35 L448.87,171.62 L449.12,171.88 L449.38,172.12 L449.64,172.37 L449.90,172.60 L450.17,172.83 L450.45,173.05 L450.74,173.27 L451.03,173.47 L451.33,173.66 L451.65,173.83 L451.97,174.00 L452.31,174.15 L452.73,174.31 L453.17,174.43 L453.64,174.53 L454.13,174.61 L454.63,174.68 L455.13,174.73 L455.64,174.78 L456.15,174.83 L456.65,174.88 L457.13,174.94 L457.60,175.01 L458.04,175.10 L458.39,175.19 L458.74,175.27 L459.08,175.37 L459.42,175.46 L459.76,175.56 L460.08,175.66 L460.40,175.76 L460.71,175.86 L461.01,175.96 L461.31,176.05 L461.59,176.15 L461.85,176.24 L462.04,176.31 L462.21,176.37 L462.38,176.43 L462.54,176.50 L462.70,176.56 L462.85,176.62 L463.00,176.69 L463.15,176.75 L463.30,176.81 L463.45,176.87 L463.61,176.94 L463.76,177.00" fill="none" stroke="#00ffff" stroke-width="1.3" stroke-linejoin="round"/>
<polygon points="330.59,93.29 333.27,88.56 327.90,88.56" fill="#00ffff"/><polygon points="334.33,88.51 337.01,83.78 331.64,83.78" fill="#00ffff"/><polygon points="338.07,85.45 340.76,80.72 335.38,80.72" fill="#00ffff"/><polygon points="341.81,83.97 344.50,79.24 339.12,79.24" fill="#00ffff"/><polygon points="345.55,83.06 348.24,78.33 342.87,78.33" fill="#00ffff"/><polygon points="349.29,82.23 351.98,77.50 346.61,77.50" fill="#00ffff"/><polygon points="353.04,81.64 355.72,76.91 350.35,76.91" fill="#00ffff"/><polygon points="356.78,81.30 359.47,76.57 354.09,76.57" fill="#00ffff"/><polygon points="360.52,81.17 363.21,76.44 357.83,76.44" fill="#00ffff"/><polygon points="364.26,81.14 366.95,76.41 361.57,76.41" fill="#00ffff"/><polygon points="368.00,81.17 370.69,76.44 365.32,76.44" fill="#00ffff"/><polygon points="371.75,81.29 374.43,76.56 369.06,76.56" fill="#00ffff"/><polygon points="375.49,81.49 378.17,76.76 372.80,76.76" fill="#00ffff"/><polygon points="379.23,81.76 381.92,77.03 376.54,77.03" fill="#00ffff"/><polygon points="382.97,82.14 385.66,77.41 380.28,77.41" fill="#00ffff"/><polygon points="386.71,82.63 389.40,77.90 384.03,77.90" fill="#00ffff"/><polygon points="390.45,83.09 393.14,78.36 387.77,78.36" fill="#00ffff"/><polygon points="394.20,83.87 396.88,79.14 391.51,79.14" fill="#00ffff"/><polygon points="397.94,85.47 400.63,80.74 395.25,80.74" fill="#00ffff"/><polygon points="401.68,87.87 404.37,83.14 398.99,83.14" fill="#00ffff"/><polygon points="405.42,90.65 408.11,85.92 402.73,85.92" fill="#00ffff"/><polygon points="409.16,93.30 411.85,88.57 406.48,88.57" fill="#00ffff"/><polygon points="412.91,95.83 415.59,91.10 410.22,91.10" fill="#00ffff"/><polygon points="416.65,99.55 419.33,94.82 413.96,94.82" fill="#00ffff"/><polygon points="420.39,110.64 423.08,105.91 417.70,105.91" fill="#00ffff"/><polygon points="424.13,121.03 426.82,116.30 421.44,116.30" fill="#00ffff"/><polygon points="427.87,131.12 430.56,126.39 425.19,126.39" fill="#00ffff"/><polygon points="431.61,143.04 434.30,138.31 428.93,138.31" fill="#00ffff"/><polygon points="435.36,154.32 438.04,149.59 432.67,149.59" fill="#00ffff"/><polygon points="439.10,162.50 441.79,157.77 436.41,157.77" fill="#00ffff"/><polygon points="442.84,167.19 445.53,162.46 440.15,162.46" fill="#00ffff"/><polygon points="446.58,170.92 449.27,166.19 443.89,166.19" fill="#00ffff"/><polygon points="450.32,175.55 453.01,170.82 447.64,170.82" fill="#00ffff"/><polygon points="454.07,177.20 456.75,172.47 451.38,172.47" fill="#00ffff"/><polygon points="457.81,177.66 460.49,172.93 455.12,172.93" fill="#00ffff"/><polygon points="461.55,178.74 464.24,174.01 458.86,174.01" fill="#00ffff"/>
<path d="M325.70,117.64 L325.78,117.10 L325.86,116.56 L325.93,116.02 L326.01,115.47 L326.08,114.93 L326.16,114.39 L326.23,113.84 L326.31,113.31 L326.40,112.77 L326.49,112.24 L326.59,111.71 L326.69,111.19 L326.79,110.70 L326.90,110.21 L327.00,109.73 L327.10,109.25 L327.21,108.77 L327.33,108.30 L327.45,107.83 L327.58,107.36 L327.72,106.89 L327.87,106.42 L328.04,105.96 L328.22,105.49 L328.42,105.01 L328.63,104.52 L328.85,104.04 L329.08,103.56 L329.32,103.09 L329.57,102.61 L329.84,102.14 L330.12,101.66 L330.41,101.20 L330.72,100.73 L331.05,100.26 L331.39,99.80 L331.81,99.25 L332.27,98.71 L332.75,98.16 L333.26,97.61 L333.78,97.07 L334.32,96.53 L334.88,95.99 L335.44,95.47 L336.02,94.95 L336.60,94.44 L337.18,93.95 L337.76,93.47 L338.35,93.00 L338.95,92.53 L339.56,92.07 L340.18,91.61 L340.81,91.17 L341.44,90.74 L342.08,90.31 L342.73,89.90 L343.39,89.51 L344.05,89.13 L344.72,88.76 L345.40,88.41 L346.09,88.07 L346.79,87.74 L347.51,87.43 L348.23,87.14 L348.95,86.85 L349.69,86.58 L350.43,86.32 L351.17,86.08 L351.92,85.85 L352.67,85.64 L353.43,85.43 L354.18,85.24 L354.95,85.07 L355.71,84.91 L356.49,84.77 L357.26,84.64 L358.05,84.53 L358.83,84.43 L359.62,84.34 L360.41,84.26 L361.21,84.20 L362.00,84.14 L362.81,84.09 L363.61,84.04 L364.46,84.01 L365.32,83.98 L366.19,83.97 L367.06,83.97 L367.94,83.98 L368.82,84.00 L369.70,84.03 L370.58,84.07 L371.45,84.12 L372.32,84.17 L373.18,84.23 L374.04,84.29 L374.85,84.36 L375.65,84.42 L376.45,84.48 L377.25,84.55 L378.04,84.63 L378.83,84.71 L379.62,84.81 L380.41,84.92 L381.20,85.05 L381.99,85.19 L382.79,85.37 L383.58,85.56 L384.44,85.79 L385.31,86.05 L386.18,86.32 L387.05,86.62 L387.93,86.93 L388.80,87.26 L389.67,87.62 L390.53,87.99 L391.39,88.38 L392.24,88.79 L393.07,89.22 L393.89,89.67 L394.73,90.16 L395.56,90.67 L396.39,91.20 L397.20,91.75 L398.01,92.32 L398.80,92.91 L399.59,93.53 L400.38,94.16 L401.15,94.81 L401.92,95.48 L402.68,96.18 L403.44,96.89 L404.28,97.70 L405.12,98.53 L405.97,99.38 L406.82,100.26 L407.65,101.16 L408.48,102.09 L409.28,103.04 L410.05,104.03 L410.80,105.04 L411.51,106.09 L412.17,107.17 L412.79,108.28 L413.42,109.59 L413.98,110.96 L414.48,112.38 L414.93,113.84 L415.35,115.35 L415.73,116.89 L416.09,118.45 L416.44,120.03 L416.79,121.62 L417.15,123.21 L417.53,124.80 L417.95,126.38 L418.41,128.11 L418.88,129.89 L419.35,131.72 L419.81,133.57 L420.28,135.44 L420.75,137.30 L421.22,139.15 L421.68,140.97 L422.15,142.74 L422.61,144.45 L423.07,146.09 L423.52,147.64 L423.85,148.74 L424.18,149.81 L424.50,150.84 L424.82,151.84 L425.14,152.82 L425.45,153.78 L425.77,154.72 L426.10,155.64 L426.43,156.56 L426.77,157.47 L427.12,158.37 L427.49,159.28 L427.83,160.13 L428.17,160.97 L428.50,161.82 L428.84,162.66 L429.19,163.50 L429.54,164.32 L429.91,165.13 L430.29,165.91 L430.70,166.67 L431.13,167.41 L431.58,168.11 L432.07,168.77 L432.55,169.36 L433.04,169.93 L433.56,170.48 L434.09,171.01 L434.64,171.52 L435.21,172.00 L435.79,172.47 L436.39,172.92 L437.01,173.34 L437.64,173.74 L438.28,174.12 L438.95,174.47 L439.68,174.81 L440.45,175.10 L441.24,175.36 L442.06,175.59 L442.89,175.79 L443.74,175.97 L444.60,176.13 L445.47,176.29 L446.33,176.45 L447.19,176.62 L448.04,176.80 L448.87,177.00" fill="none" stroke="#ff00ff" stroke-width="1.3" stroke-linejoin="round"/>
<polygon points="325.70,114.53 328.28,117.64 325.70,120.76 323.12,117.64" fill="#ff00ff"/><polygon points="329.44,99.74 332.02,102.86 329.44,105.98 326.86,102.86" fill="#ff00ff"/><polygon points="333.18,94.58 335.76,97.69 333.18,100.81 330.60,97.69" fill="#ff00ff"/><polygon points="336.92,91.05 339.50,94.17 336.92,97.29 334.34,94.17" fill="#ff00ff"/><polygon points="340.67,88.15 343.25,91.27 340.67,94.39 338.09,91.27" fill="#ff00ff"/><polygon points="344.41,85.81 346.99,88.93 344.41,92.05 341.83,88.93" fill="#ff00ff"/><polygon points="348.15,84.05 350.73,87.17 348.15,90.29 345.57,87.17" fill="#ff00ff"/><polygon points="351.89,82.74 354.47,85.86 351.89,88.98 349.31,85.86" fill="#ff00ff"/><polygon points="355.63,81.81 358.21,84.93 355.63,88.05 353.05,84.93" fill="#ff00ff"/><polygon points="359.37,81.25 361.95,84.37 359.37,87.49 356.79,84.37" fill="#ff00ff"/><polygon points="363.12,80.95 365.70,84.07 363.12,87.19 360.54,84.07" fill="#ff00ff"/><polygon points="366.86,80.85 369.44,83.97 366.86,87.09 364.28,83.97" fill="#ff00ff"/><polygon points="370.60,80.96 373.18,84.07 370.60,87.19 368.02,84.07" fill="#ff00ff"/><polygon points="374.34,81.20 376.92,84.32 374.34,87.44 371.76,84.32" fill="#ff00ff"/><polygon points="378.08,81.51 380.66,84.63 378.08,87.75 375.50,84.63" fill="#ff00ff"/><polygon points="381.83,82.05 384.41,85.16 381.83,88.28 379.25,85.16" fill="#ff00ff"/><polygon points="385.57,83.01 388.15,86.13 385.57,89.25 382.99,86.13" fill="#ff00ff"/><polygon points="389.31,84.35 391.89,87.47 389.31,90.59 386.73,87.47" fill="#ff00ff"/><polygon points="393.05,86.10 395.63,89.21 393.05,92.33 390.47,89.21" fill="#ff00ff"/><polygon points="396.79,88.36 399.37,91.47 396.79,94.59 394.21,91.47" fill="#ff00ff"/><polygon points="400.53,91.17 403.11,94.29 400.53,97.41 397.95,94.29" fill="#ff00ff"/><polygon points="404.28,94.58 406.86,97.70 404.28,100.82 401.70,97.70" fill="#ff00ff"/><polygon points="408.02,98.45 410.60,101.57 408.02,104.69 405.44,101.57" fill="#ff00ff"/><polygon points="411.76,103.38 414.34,106.50 411.76,109.61 409.18,106.50" fill="#ff00ff"/><polygon points="415.50,112.86 418.08,115.98 415.50,119.10 412.92,115.98" fill="#ff00ff"/><polygon points="419.24,128.20 421.82,131.32 419.24,134.44 416.66,131.32" fill="#ff00ff"/><polygon points="422.99,142.68 425.57,145.80 422.99,148.92 420.41,145.80" fill="#ff00ff"/><polygon points="426.73,154.23 429.31,157.35 426.73,160.46 424.15,157.35" fill="#ff00ff"/><polygon points="430.47,163.13 433.05,166.25 430.47,169.36 427.89,166.25" fill="#ff00ff"/><polygon points="434.21,168.00 436.79,171.12 434.21,174.24 431.63,171.12" fill="#ff00ff"/><polygon points="437.95,170.81 440.53,173.92 437.95,177.04 435.37,173.92" fill="#ff00ff"/><polygon points="441.69,172.37 444.27,175.49 441.69,178.60 439.11,175.49" fill="#ff00ff"/><polygon points="445.44,173.17 448.02,176.29 445.44,179.41 442.86,176.29" fill="#ff00ff"/>
<rect x="57.00" y="223.80" width="210.00" height="158.20" fill="none" stroke="#727272" stroke-width="1.4"/>
<path d="M57.00,382.00v3.2M95.18,382.00v3.2M133.36,382.00v3.2M171.55,382.00v3.2M209.73,382.00v3.2M247.91,382.00v3.2M76.09,382.00v1.8M114.27,382.00v1.8M152.45,382.00v1.8M190.64,382.00v1.8M228.82,382.00v1.8M267.00,382.00v1.8M57.00,382.00h-3.2M57.00,350.36h-3.2M57.00,318.72h-3.2M57.00,287.08h-3.2M57.00,255.44h-3.2M57.00,223.80h-3.2M57.00,366.18h-1.8M57.00,334.54h-1.8M57.00,302.90h-1.8M57.00,271.26h-1.8M57.00,239.62h-1.8" stroke="#727272" stroke-width="1.1" fill="none"/>
<text x="57.00" y="395.60" font-size="11.0" text-anchor="middle" >0</text>
<text x="95.18" y="395.60" font-size="11.0" text-anchor="middle" >10</text>
<text x="133.36" y="395.60" font-size="11.0" text-anchor="middle" >20</text>
<text x="171.55" y="395.60" font-size="11.0" text-anchor="middle" >30</text>
<text x="209.73" y="395.60" font-size="11.0" text-anchor="middle" >40</text>
<text x="247.91" y="395.60" font-size="11.0" text-anchor="middle" >50</text>
<text x="52.20" y="385.60" font-size="11.0" text-anchor="end" >0</text>
<text x="52.20" y="353.96" font-size="11.0" text-anchor="end" >50</text>
<text x="52.20" y="322.32" font-size="11.0" text-anchor="end" >100</text>
<text x="52.20" y="290.68" font-size="11.0" text-anchor="end" >150</text>
<text x="52.20" y="259.04" font-size="11.0" text-anchor="end" >200</text>
<text x="52.20" y="227.40" font-size="11.0" text-anchor="end" >250</text>
<path d="M57.95,328.21 L58.08,327.68 L58.20,327.15 L58.32,326.62 L58.44,326.09 L58.56,325.56 L58.68,325.03 L58.80,324.50 L58.93,323.97 L59.06,323.45 L59.19,322.92 L59.33,322.40 L59.48,321.88 L59.63,321.37 L59.76,320.84 L59.89,320.31 L60.03,319.77 L60.16,319.24 L60.31,318.71 L60.46,318.19 L60.64,317.68 L60.83,317.20 L61.05,316.73 L61.30,316.29 L61.58,315.87 L61.89,315.50 L62.23,315.15 L62.59,314.83 L62.97,314.52 L63.37,314.23 L63.80,313.95 L64.23,313.69 L64.68,313.43 L65.14,313.17 L65.60,312.92 L66.07,312.66 L66.55,312.39 L67.11,312.08 L67.68,311.76 L68.28,311.46 L68.88,311.15 L69.50,310.86 L70.13,310.56 L70.77,310.27 L71.43,309.99 L72.10,309.71 L72.78,309.44 L73.48,309.17 L74.18,308.91 L75.05,308.61 L75.95,308.32 L76.89,308.03 L77.85,307.76 L78.82,307.49 L79.81,307.23 L80.81,306.97 L81.80,306.72 L82.78,306.48 L83.76,306.23 L84.71,305.99 L85.64,305.75 L86.47,305.53 L87.29,305.31 L88.11,305.09 L88.93,304.87 L89.74,304.65 L90.54,304.44 L91.34,304.23 L92.13,304.04 L92.91,303.85 L93.68,303.67 L94.44,303.50 L95.18,303.34 L95.81,303.22 L96.43,303.11 L97.04,303.00 L97.64,302.90 L98.23,302.81 L98.82,302.72 L99.40,302.64 L99.98,302.56 L100.56,302.49 L101.14,302.41 L101.71,302.34 L102.28,302.27 L102.82,302.20 L103.35,302.14 L103.88,302.08 L104.41,302.02 L104.93,301.96 L105.45,301.91 L105.97,301.86 L106.49,301.81 L107.01,301.76 L107.52,301.72 L108.03,301.68 L108.55,301.63 L109.02,301.60 L109.49,301.56 L109.94,301.52 L110.39,301.49 L110.84,301.46 L111.29,301.43 L111.75,301.40 L112.21,301.38 L112.70,301.36 L113.20,301.34 L113.72,301.33 L114.27,301.32 L115.13,301.31 L116.04,301.32 L116.99,301.34 L117.99,301.36 L119.01,301.39 L120.06,301.43 L121.13,301.47 L122.21,301.51 L123.29,301.56 L124.37,301.61 L125.44,301.65 L126.49,301.70 L127.59,301.74 L128.70,301.78 L129.83,301.81 L130.96,301.84 L132.10,301.88 L133.24,301.92 L134.37,301.97 L135.50,302.02 L136.61,302.09 L137.71,302.18 L138.79,302.28 L139.85,302.39 L140.79,302.52 L141.71,302.66 L142.61,302.81 L143.49,302.98 L144.37,303.16 L145.25,303.34 L146.12,303.53 L146.99,303.72 L147.87,303.91 L148.75,304.11 L149.64,304.30 L150.55,304.48 L151.51,304.67 L152.49,304.86 L153.47,305.05 L154.47,305.23 L155.46,305.42 L156.46,305.61 L157.46,305.81 L158.45,306.01 L159.45,306.21 L160.43,306.43 L161.41,306.65 L162.38,306.89 L163.32,307.13 L164.26,307.37 L165.18,307.62 L166.11,307.88 L167.03,308.14 L167.95,308.41 L168.86,308.68 L169.78,308.97 L170.70,309.26 L171.61,309.56 L172.53,309.86 L173.45,310.18 L174.41,310.51 L175.38,310.84 L176.35,311.18 L177.33,311.53 L178.30,311.88 L179.27,312.24 L180.24,312.62 L181.20,313.00 L182.15,313.40 L183.09,313.81 L184.01,314.23 L184.91,314.67 L185.76,315.11 L186.61,315.57 L187.46,316.05 L188.30,316.54 L189.13,317.05 L189.95,317.56 L190.76,318.08 L191.54,318.60 L192.31,319.12 L193.05,319.63 L193.77,320.13 L194.45,320.62 L194.97,321.00 L195.46,321.36 L195.92,321.72 L196.37,322.08 L196.80,322.43 L197.23,322.79 L197.65,323.15 L198.07,323.52 L198.51,323.89 L198.96,324.28 L199.42,324.69 L199.91,325.11 L200.59,325.68 L201.29,326.27 L202.01,326.88 L202.76,327.50 L203.52,328.14 L204.29,328.80 L205.06,329.47 L205.83,330.16 L206.59,330.87 L207.35,331.59 L208.09,332.33 L208.81,333.08 L209.59,333.95 L210.38,334.85 L211.15,335.78 L211.92,336.73 L212.68,337.71 L213.44,338.70 L214.19,339.70 L214.92,340.71 L215.65,341.72 L216.36,342.73 L217.06,343.73 L217.75,344.73 L218.39,345.69 L219.04,346.67 L219.68,347.66 L220.31,348.66 L220.93,349.66 L221.54,350.66 L222.13,351.65 L222.71,352.63 L223.26,353.59 L223.80,354.53 L224.32,355.43 L224.81,356.31 L225.16,356.95 L225.50,357.58 L225.81,358.19 L226.11,358.79 L226.40,359.38 L226.68,359.96 L226.96,360.53 L227.24,361.10 L227.52,361.67 L227.81,362.24 L228.12,362.82 L228.44,363.40 L228.77,364.00 L229.11,364.60 L229.46,365.22 L229.80,365.83 L230.15,366.44 L230.51,367.05 L230.87,367.65 L231.24,368.24 L231.62,368.82 L232.01,369.39 L232.41,369.95 L232.83,370.48 L233.24,370.98 L233.67,371.46 L234.11,371.93 L234.57,372.39 L235.03,372.83 L235.50,373.27 L235.97,373.71 L236.43,374.13 L236.90,374.55 L237.35,374.97 L237.79,375.39 L238.21,375.80 L238.57,376.16 L238.92,376.52 L239.27,376.88 L239.61,377.24 L239.95,377.60 L240.29,377.95 L240.62,378.30 L240.94,378.63 L241.26,378.94 L241.58,379.25 L241.88,379.53 L242.18,379.79 L242.39,379.96 L242.59,380.12 L242.78,380.27 L242.98,380.42 L243.17,380.56 L243.36,380.70 L243.54,380.82 L243.73,380.94 L243.91,381.06 L244.10,381.17 L244.28,381.27 L244.47,381.37 L244.63,381.44 L244.79,381.51 L244.95,381.57 L245.11,381.63 L245.27,381.68 L245.43,381.72 L245.59,381.77 L245.75,381.81 L245.91,381.86 L246.06,381.90 L246.22,381.95 L246.38,382.00" fill="none" stroke="#000000" stroke-width="1.8" stroke-linejoin="round"/>
<path d="M59.29,326.31 L59.43,325.42 L59.56,324.49 L59.68,323.54 L59.79,322.58 L59.90,321.62 L60.02,320.67 L60.15,319.74 L60.29,318.85 L60.45,318.00 L60.63,317.20 L60.84,316.47 L61.09,315.81 L61.26,315.44 L61.44,315.09 L61.64,314.78 L61.84,314.48 L62.05,314.20 L62.27,313.93 L62.49,313.68 L62.72,313.43 L62.94,313.17 L63.17,312.92 L63.39,312.66 L63.61,312.39 L63.81,312.12 L64.02,311.85 L64.22,311.59 L64.42,311.33 L64.62,311.06 L64.82,310.80 L65.03,310.54 L65.24,310.28 L65.46,310.02 L65.68,309.76 L65.92,309.49 L66.16,309.23 L66.46,308.91 L66.77,308.59 L67.08,308.27 L67.40,307.94 L67.73,307.62 L68.06,307.29 L68.41,306.97 L68.78,306.65 L69.15,306.33 L69.54,306.02 L69.94,305.72 L70.36,305.43 L70.91,305.08 L71.48,304.74 L72.08,304.40 L72.69,304.07 L73.33,303.76 L73.99,303.44 L74.66,303.14 L75.35,302.84 L76.04,302.54 L76.75,302.26 L77.47,301.97 L78.19,301.70 L79.04,301.38 L79.91,301.08 L80.80,300.78 L81.70,300.48 L82.62,300.20 L83.56,299.93 L84.51,299.66 L85.47,299.40 L86.45,299.16 L87.44,298.92 L88.44,298.69 L89.45,298.47 L90.65,298.23 L91.88,297.99 L93.15,297.76 L94.44,297.54 L95.75,297.33 L97.07,297.14 L98.39,296.96 L99.70,296.80 L101.00,296.66 L102.28,296.54 L103.52,296.45 L104.73,296.38 L105.74,296.35 L106.74,296.33 L107.72,296.34 L108.69,296.36 L109.64,296.40 L110.59,296.45 L111.53,296.51 L112.47,296.58 L113.40,296.66 L114.33,296.73 L115.25,296.81 L116.18,296.89 L117.06,296.96 L117.92,297.03 L118.77,297.11 L119.62,297.18 L120.46,297.27 L121.30,297.36 L122.14,297.45 L122.99,297.56 L123.84,297.67 L124.71,297.80 L125.59,297.94 L126.49,298.09 L127.57,298.29 L128.70,298.51 L129.87,298.76 L131.07,299.03 L132.28,299.31 L133.48,299.59 L134.67,299.88 L135.83,300.18 L136.94,300.46 L137.99,300.74 L138.97,301.01 L139.85,301.25 L140.36,301.40 L140.83,301.52 L141.27,301.65 L141.69,301.76 L142.10,301.88 L142.49,301.99 L142.87,302.12 L143.25,302.25 L143.63,302.38 L144.02,302.54 L144.41,302.71 L144.82,302.90 L145.29,303.14 L145.77,303.40 L146.25,303.68 L146.73,303.98 L147.21,304.28 L147.69,304.60 L148.16,304.94 L148.64,305.28 L149.12,305.63 L149.60,305.98 L150.07,306.34 L150.55,306.70 L151.05,307.09 L151.56,307.50 L152.05,307.91 L152.54,308.33 L153.03,308.76 L153.53,309.19 L154.02,309.64 L154.53,310.10 L155.04,310.56 L155.56,311.03 L156.10,311.52 L156.65,312.01 L157.39,312.66 L158.16,313.33 L158.97,314.02 L159.79,314.73 L160.64,315.46 L161.48,316.20 L162.33,316.94 L163.16,317.69 L163.97,318.43 L164.76,319.17 L165.50,319.90 L166.20,320.62 L166.75,321.21 L167.27,321.79 L167.76,322.37 L168.23,322.95 L168.69,323.52 L169.13,324.10 L169.58,324.68 L170.02,325.26 L170.48,325.86 L170.94,326.46 L171.42,327.08 L171.93,327.71 L172.55,328.47 L173.21,329.26 L173.89,330.07 L174.58,330.90 L175.29,331.73 L175.99,332.58 L176.70,333.42 L177.39,334.26 L178.07,335.10 L178.73,335.92 L179.35,336.73 L179.95,337.51 L180.42,338.16 L180.87,338.79 L181.31,339.42 L181.73,340.04 L182.14,340.65 L182.54,341.26 L182.94,341.87 L183.33,342.48 L183.72,343.10 L184.11,343.72 L184.51,344.34 L184.91,344.98 L185.34,345.65 L185.77,346.32 L186.22,346.99 L186.66,347.67 L187.11,348.35 L187.55,349.04 L187.98,349.72 L188.39,350.42 L188.80,351.12 L189.18,351.83 L189.54,352.55 L189.87,353.27 L190.17,354.00 L190.44,354.75 L190.68,355.51 L190.91,356.28 L191.11,357.05 L191.31,357.83 L191.50,358.61 L191.69,359.38 L191.88,360.15 L192.09,360.91 L192.31,361.65 L192.55,362.38 L192.77,363.05 L193.00,363.72 L193.23,364.38 L193.45,365.04 L193.68,365.70 L193.92,366.35 L194.16,366.98 L194.42,367.61 L194.69,368.23 L194.97,368.83 L195.28,369.41 L195.60,369.98 L195.93,370.49 L196.28,370.98 L196.66,371.46 L197.06,371.93 L197.47,372.39 L197.88,372.83 L198.29,373.27 L198.70,373.71 L199.10,374.14 L199.48,374.56 L199.85,374.99 L200.18,375.42 L200.44,375.77 L200.68,376.13 L200.92,376.49 L201.14,376.84 L201.36,377.19 L201.58,377.54 L201.79,377.88 L202.00,378.22 L202.21,378.54 L202.42,378.86 L202.63,379.17 L202.85,379.47 L203.04,379.71 L203.23,379.94 L203.42,380.16 L203.61,380.37 L203.81,380.58 L204.00,380.78 L204.19,380.99 L204.38,381.19 L204.57,381.39 L204.76,381.59 L204.95,381.79 L205.15,382.00" fill="none" stroke="#ff0000" stroke-width="1.3" stroke-linejoin="round"/>
<rect x="58.83" y="313.55" width="4.51" height="4.51" fill="#ff0000"/><rect x="62.57" y="308.54" width="4.51" height="4.51" fill="#ff0000"/><rect x="66.31" y="304.57" width="4.51" height="4.51" fill="#ff0000"/><rect x="70.05" y="302.02" width="4.51" height="4.51" fill="#ff0000"/><rect x="73.80" y="300.28" width="4.51" height="4.51" fill="#ff0000"/><rect x="77.54" y="298.86" width="4.51" height="4.51" fill="#ff0000"/><rect x="81.28" y="297.68" width="4.51" height="4.51" fill="#ff0000"/><rect x="85.02" y="296.70" width="4.51" height="4.51" fill="#ff0000"/><rect x="88.76" y="295.90" width="4.51" height="4.51" fill="#ff0000"/><rect x="92.50" y="295.23" width="4.51" height="4.51" fill="#ff0000"/><rect x="96.25" y="294.69" width="4.51" height="4.51" fill="#ff0000"/><rect x="99.99" y="294.29" width="4.51" height="4.51" fill="#ff0000"/><rect x="103.73" y="294.09" width="4.51" height="4.51" fill="#ff0000"/><rect x="107.47" y="294.15" width="4.51" height="4.51" fill="#ff0000"/><rect x="111.21" y="294.41" width="4.51" height="4.51" fill="#ff0000"/><rect x="114.96" y="294.71" width="4.51" height="4.51" fill="#ff0000"/><rect x="118.70" y="295.06" width="4.51" height="4.51" fill="#ff0000"/><rect x="122.44" y="295.54" width="4.51" height="4.51" fill="#ff0000"/><rect x="126.18" y="296.21" width="4.51" height="4.51" fill="#ff0000"/><rect x="129.92" y="297.03" width="4.51" height="4.51" fill="#ff0000"/><rect x="133.66" y="297.94" width="4.51" height="4.51" fill="#ff0000"/><rect x="137.41" y="298.94" width="4.51" height="4.51" fill="#ff0000"/><rect x="141.15" y="300.04" width="4.51" height="4.51" fill="#ff0000"/><rect x="144.89" y="301.99" width="4.51" height="4.51" fill="#ff0000"/><rect x="148.63" y="304.71" width="4.51" height="4.51" fill="#ff0000"/><rect x="152.37" y="307.93" width="4.51" height="4.51" fill="#ff0000"/><rect x="156.12" y="311.25" width="4.51" height="4.51" fill="#ff0000"/><rect x="159.86" y="314.49" width="4.51" height="4.51" fill="#ff0000"/><rect x="163.60" y="318.01" width="4.51" height="4.51" fill="#ff0000"/><rect x="167.34" y="322.45" width="4.51" height="4.51" fill="#ff0000"/><rect x="171.08" y="327.16" width="4.51" height="4.51" fill="#ff0000"/><rect x="174.82" y="331.63" width="4.51" height="4.51" fill="#ff0000"/><rect x="178.57" y="336.47" width="4.51" height="4.51" fill="#ff0000"/><rect x="182.31" y="342.18" width="4.51" height="4.51" fill="#ff0000"/><rect x="186.05" y="348.02" width="4.51" height="4.51" fill="#ff0000"/><rect x="189.79" y="358.51" width="4.51" height="4.51" fill="#ff0000"/><rect x="193.53" y="368.02" width="4.51" height="4.51" fill="#ff0000"/><rect x="197.28" y="372.36" width="4.51" height="4.51" fill="#ff0000"/><rect x="201.02" y="377.73" width="4.51" height="4.51" fill="#ff0000"/>
<path d="M58.91,337.70 L59.00,336.96 L59.08,336.19 L59.16,335.42 L59.23,334.64 L59.31,333.87 L59.39,333.09 L59.47,332.33 L59.56,331.58 L59.66,330.86 L59.77,330.15 L59.90,329.48 L60.05,328.84 L60.18,328.38 L60.30,327.92 L60.42,327.47 L60.55,327.02 L60.68,326.59 L60.82,326.18 L60.97,325.78 L61.14,325.39 L61.32,325.02 L61.51,324.67 L61.73,324.34 L61.96,324.04 L62.19,323.79 L62.43,323.57 L62.69,323.37 L62.96,323.19 L63.25,323.02 L63.54,322.86 L63.84,322.71 L64.15,322.56 L64.46,322.41 L64.77,322.24 L65.09,322.07 L65.40,321.88 L65.78,321.64 L66.15,321.39 L66.53,321.13 L66.92,320.87 L67.31,320.60 L67.70,320.33 L68.11,320.05 L68.53,319.78 L68.96,319.51 L69.41,319.24 L69.88,318.98 L70.36,318.72 L71.04,318.39 L71.76,318.05 L72.51,317.72 L73.29,317.39 L74.09,317.06 L74.91,316.74 L75.75,316.42 L76.59,316.11 L77.43,315.80 L78.27,315.50 L79.10,315.21 L79.91,314.92 L80.69,314.65 L81.47,314.38 L82.25,314.12 L83.02,313.87 L83.80,313.62 L84.57,313.38 L85.36,313.14 L86.15,312.91 L86.95,312.69 L87.77,312.48 L88.60,312.27 L89.45,312.08 L90.45,311.86 L91.48,311.65 L92.53,311.45 L93.59,311.26 L94.67,311.08 L95.76,310.92 L96.86,310.76 L97.96,310.61 L99.05,310.48 L100.14,310.36 L101.22,310.26 L102.28,310.18 L103.30,310.11 L104.30,310.07 L105.31,310.04 L106.32,310.02 L107.32,310.02 L108.32,310.02 L109.31,310.04 L110.31,310.06 L111.30,310.09 L112.29,310.12 L113.28,310.15 L114.27,310.18 L115.24,310.21 L116.20,310.24 L117.16,310.28 L118.11,310.32 L119.07,310.36 L120.02,310.42 L120.97,310.47 L121.92,310.53 L122.87,310.59 L123.82,310.66 L124.77,310.73 L125.73,310.81 L126.68,310.89 L127.63,310.98 L128.57,311.07 L129.52,311.17 L130.46,311.28 L131.40,311.38 L132.35,311.49 L133.30,311.61 L134.26,311.72 L135.22,311.84 L136.20,311.96 L137.18,312.08 L138.26,312.20 L139.36,312.31 L140.48,312.43 L141.60,312.54 L142.73,312.65 L143.87,312.77 L145.00,312.90 L146.13,313.04 L147.25,313.20 L148.37,313.37 L149.47,313.56 L150.55,313.78 L151.57,314.02 L152.58,314.27 L153.59,314.53 L154.58,314.82 L155.58,315.11 L156.56,315.42 L157.54,315.74 L158.52,316.07 L159.49,316.41 L160.46,316.75 L161.42,317.10 L162.38,317.45 L163.33,317.81 L164.26,318.17 L165.19,318.54 L166.12,318.92 L167.04,319.30 L167.96,319.69 L168.87,320.09 L169.79,320.50 L170.70,320.91 L171.62,321.34 L172.53,321.77 L173.45,322.20 L174.42,322.66 L175.39,323.12 L176.37,323.60 L177.35,324.08 L178.33,324.56 L179.31,325.06 L180.28,325.56 L181.24,326.08 L182.19,326.60 L183.12,327.13 L184.03,327.66 L184.91,328.21 L185.71,328.73 L186.49,329.25 L187.26,329.78 L188.02,330.32 L188.77,330.87 L189.50,331.43 L190.23,331.99 L190.94,332.55 L191.64,333.12 L192.33,333.70 L193.02,334.28 L193.69,334.86 L194.31,335.40 L194.92,335.95 L195.52,336.50 L196.11,337.05 L196.69,337.61 L197.26,338.17 L197.83,338.74 L198.39,339.31 L198.94,339.90 L199.48,340.49 L200.03,341.08 L200.56,341.69 L201.11,342.32 L201.64,342.97 L202.17,343.62 L202.69,344.29 L203.20,344.96 L203.71,345.64 L204.22,346.32 L204.71,347.01 L205.21,347.69 L205.70,348.37 L206.19,349.05 L206.67,349.73 L207.14,350.38 L207.60,351.02 L208.06,351.67 L208.52,352.32 L208.97,352.97 L209.42,353.62 L209.86,354.27 L210.30,354.92 L210.74,355.57 L211.17,356.22 L211.59,356.86 L212.02,357.51 L212.42,358.13 L212.81,358.76 L213.20,359.39 L213.59,360.01 L213.97,360.64 L214.34,361.27 L214.72,361.89 L215.09,362.51 L215.47,363.12 L215.84,363.73 L216.22,364.33 L216.60,364.91 L216.95,365.45 L217.30,365.97 L217.65,366.49 L218.00,367.00 L218.35,367.50 L218.70,368.00 L219.05,368.50 L219.40,369.00 L219.75,369.49 L220.10,369.99 L220.45,370.49 L220.80,370.99 L221.14,371.49 L221.47,372.00 L221.79,372.51 L222.11,373.03 L222.43,373.54 L222.76,374.05 L223.09,374.55 L223.43,375.05 L223.79,375.54 L224.17,376.02 L224.57,376.49 L225.00,376.94 L225.51,377.41 L226.05,377.87 L226.62,378.31 L227.21,378.74 L227.83,379.16 L228.46,379.57 L229.09,379.97 L229.73,380.37 L230.38,380.77 L231.01,381.17 L231.64,381.58 L232.25,382.00" fill="none" stroke="#00e600" stroke-width="1.3" stroke-linejoin="round"/>
<circle cx="61.96" cy="324.04" r="2.47" fill="#00e600"/><circle cx="65.71" cy="321.69" r="2.47" fill="#00e600"/><circle cx="69.45" cy="319.22" r="2.47" fill="#00e600"/><circle cx="73.19" cy="317.43" r="2.47" fill="#00e600"/><circle cx="76.93" cy="315.98" r="2.47" fill="#00e600"/><circle cx="80.67" cy="314.66" r="2.47" fill="#00e600"/><circle cx="84.41" cy="313.42" r="2.47" fill="#00e600"/><circle cx="88.16" cy="312.38" r="2.47" fill="#00e600"/><circle cx="91.90" cy="311.57" r="2.47" fill="#00e600"/><circle cx="95.64" cy="310.93" r="2.47" fill="#00e600"/><circle cx="99.38" cy="310.45" r="2.47" fill="#00e600"/><circle cx="103.12" cy="310.12" r="2.47" fill="#00e600"/><circle cx="106.87" cy="310.02" r="2.47" fill="#00e600"/><circle cx="110.61" cy="310.07" r="2.47" fill="#00e600"/><circle cx="114.35" cy="310.18" r="2.47" fill="#00e600"/><circle cx="118.09" cy="310.32" r="2.47" fill="#00e600"/><circle cx="121.83" cy="310.52" r="2.47" fill="#00e600"/><circle cx="125.57" cy="310.80" r="2.47" fill="#00e600"/><circle cx="129.32" cy="311.15" r="2.47" fill="#00e600"/><circle cx="133.06" cy="311.58" r="2.47" fill="#00e600"/><circle cx="136.80" cy="312.03" r="2.47" fill="#00e600"/><circle cx="140.54" cy="312.43" r="2.47" fill="#00e600"/><circle cx="144.28" cy="312.82" r="2.47" fill="#00e600"/><circle cx="148.03" cy="313.32" r="2.47" fill="#00e600"/><circle cx="151.77" cy="314.07" r="2.47" fill="#00e600"/><circle cx="155.51" cy="315.09" r="2.47" fill="#00e600"/><circle cx="159.25" cy="316.33" r="2.47" fill="#00e600"/><circle cx="162.99" cy="317.68" r="2.47" fill="#00e600"/><circle cx="166.73" cy="319.17" r="2.47" fill="#00e600"/><circle cx="170.48" cy="320.81" r="2.47" fill="#00e600"/><circle cx="174.22" cy="322.56" r="2.47" fill="#00e600"/><circle cx="177.96" cy="324.38" r="2.47" fill="#00e600"/><circle cx="181.70" cy="326.33" r="2.47" fill="#00e600"/><circle cx="185.44" cy="328.56" r="2.47" fill="#00e600"/><circle cx="189.19" cy="331.19" r="2.47" fill="#00e600"/><circle cx="192.93" cy="334.20" r="2.47" fill="#00e600"/><circle cx="196.67" cy="337.59" r="2.47" fill="#00e600"/><circle cx="200.41" cy="341.52" r="2.47" fill="#00e600"/><circle cx="204.15" cy="346.24" r="2.47" fill="#00e600"/><circle cx="207.89" cy="351.44" r="2.47" fill="#00e600"/><circle cx="211.64" cy="356.93" r="2.47" fill="#00e600"/><circle cx="215.38" cy="362.98" r="2.47" fill="#00e600"/><circle cx="219.12" cy="368.60" r="2.47" fill="#00e600"/><circle cx="222.86" cy="374.21" r="2.47" fill="#00e600"/><circle cx="226.60" cy="378.30" r="2.47" fill="#00e600"/><circle cx="230.35" cy="380.75" r="2.47" fill="#00e600"/>
<path d="M57.38,349.92 L57.41,349.16 L57.44,348.40 L57.47,347.64 L57.49,346.88 L57.52,346.12 L57.55,345.36 L57.57,344.61 L57.60,343.85 L57.64,343.10 L57.68,342.35 L57.72,341.61 L57.76,340.87 L57.81,340.16 L57.86,339.45 L57.91,338.73 L57.96,338.02 L58.02,337.31 L58.07,336.60 L58.14,335.90 L58.20,335.22 L58.27,334.54 L58.35,333.89 L58.44,333.25 L58.53,332.64 L58.60,332.18 L58.68,331.73 L58.77,331.29 L58.85,330.87 L58.94,330.45 L59.03,330.04 L59.13,329.64 L59.23,329.24 L59.33,328.83 L59.44,328.42 L59.55,328.00 L59.67,327.58 L59.80,327.11 L59.92,326.62 L60.03,326.12 L60.15,325.61 L60.28,325.11 L60.41,324.60 L60.55,324.11 L60.71,323.62 L60.89,323.15 L61.09,322.70 L61.32,322.28 L61.58,321.88 L61.86,321.54 L62.16,321.21 L62.49,320.92 L62.83,320.64 L63.20,320.37 L63.58,320.12 L63.97,319.87 L64.37,319.63 L64.79,319.38 L65.22,319.13 L65.65,318.87 L66.09,318.59 L66.67,318.22 L67.28,317.84 L67.91,317.44 L68.56,317.05 L69.23,316.65 L69.91,316.25 L70.61,315.85 L71.32,315.46 L72.03,315.07 L72.75,314.69 L73.47,314.33 L74.18,313.97 L74.94,313.62 L75.71,313.27 L76.49,312.93 L77.28,312.59 L78.08,312.27 L78.88,311.95 L79.69,311.64 L80.49,311.34 L81.31,311.04 L82.12,310.74 L82.92,310.46 L83.73,310.18 L84.52,309.91 L85.31,309.64 L86.11,309.38 L86.90,309.13 L87.70,308.88 L88.50,308.64 L89.30,308.41 L90.10,308.18 L90.90,307.96 L91.69,307.74 L92.48,307.53 L93.27,307.33 L94.02,307.14 L94.77,306.95 L95.50,306.77 L96.24,306.59 L96.97,306.42 L97.70,306.25 L98.44,306.09 L99.18,305.94 L99.94,305.80 L100.70,305.67 L101.48,305.54 L102.28,305.43 L103.22,305.32 L104.18,305.22 L105.15,305.14 L106.14,305.06 L107.14,305.00 L108.16,304.95 L109.18,304.91 L110.20,304.88 L111.22,304.85 L112.25,304.83 L113.26,304.81 L114.27,304.80 L115.28,304.79 L116.30,304.79 L117.31,304.79 L118.32,304.80 L119.33,304.82 L120.34,304.84 L121.36,304.87 L122.38,304.91 L123.40,304.95 L124.42,305.00 L125.45,305.05 L126.49,305.11 L127.59,305.19 L128.70,305.26 L129.83,305.35 L130.96,305.45 L132.10,305.55 L133.23,305.66 L134.37,305.77 L135.49,305.88 L136.61,306.00 L137.71,306.13 L138.79,306.25 L139.85,306.38 L140.79,306.50 L141.70,306.61 L142.60,306.73 L143.49,306.86 L144.37,306.98 L145.25,307.11 L146.12,307.25 L146.99,307.38 L147.87,307.52 L148.75,307.66 L149.64,307.81 L150.55,307.96 L151.51,308.12 L152.49,308.28 L153.48,308.44 L154.47,308.60 L155.47,308.76 L156.47,308.93 L157.46,309.11 L158.46,309.30 L159.45,309.49 L160.44,309.71 L161.42,309.93 L162.38,310.18 L163.33,310.43 L164.26,310.70 L165.19,310.98 L166.12,311.28 L167.04,311.58 L167.96,311.90 L168.87,312.22 L169.79,312.56 L170.70,312.90 L171.62,313.25 L172.53,313.61 L173.45,313.97 L174.42,314.36 L175.38,314.75 L176.36,315.14 L177.34,315.55 L178.31,315.96 L179.29,316.39 L180.26,316.82 L181.21,317.27 L182.16,317.74 L183.10,318.22 L184.01,318.71 L184.91,319.23 L185.76,319.74 L186.60,320.28 L187.43,320.83 L188.25,321.39 L189.06,321.96 L189.85,322.55 L190.64,323.15 L191.42,323.77 L192.19,324.39 L192.95,325.02 L193.71,325.66 L194.45,326.31 L195.20,326.98 L195.95,327.66 L196.69,328.35 L197.42,329.06 L198.14,329.77 L198.86,330.50 L199.56,331.23 L200.25,331.97 L200.93,332.72 L201.59,333.47 L202.23,334.23 L202.85,334.98 L203.43,335.71 L203.99,336.44 L204.53,337.19 L205.06,337.93 L205.57,338.69 L206.08,339.45 L206.57,340.21 L207.06,340.97 L207.54,341.74 L208.01,342.50 L208.49,343.27 L208.96,344.03 L209.42,344.78 L209.87,345.52 L210.32,346.28 L210.76,347.03 L211.19,347.78 L211.62,348.54 L212.05,349.29 L212.47,350.05 L212.88,350.80 L213.30,351.54 L213.71,352.28 L214.12,353.02 L214.50,353.71 L214.87,354.39 L215.24,355.08 L215.61,355.76 L215.97,356.44 L216.32,357.11 L216.68,357.79 L217.04,358.46 L217.40,359.13 L217.77,359.79 L218.13,360.46 L218.51,361.12 L218.88,361.77 L219.23,362.42 L219.59,363.07 L219.94,363.71 L220.30,364.36 L220.66,365.00 L221.03,365.64 L221.41,366.27 L221.80,366.90 L222.21,367.51 L222.64,368.12 L223.09,368.71 L223.59,369.32 L224.12,369.91 L224.66,370.49 L225.23,371.06 L225.81,371.62 L226.41,372.18 L227.01,372.73 L227.61,373.28 L228.21,373.82 L228.81,374.37 L229.39,374.93 L229.96,375.48 L230.51,376.03 L231.06,376.57 L231.60,377.12 L232.14,377.66 L232.68,378.20 L233.22,378.75 L233.76,379.29 L234.30,379.83 L234.84,380.37 L235.38,380.91 L235.91,381.46 L236.45,382.00" fill="none" stroke="#0000ff" stroke-width="1.3" stroke-linejoin="round"/>
<polygon points="59.67,324.98 62.36,329.71 56.99,329.71" fill="#0000ff"/><polygon points="63.41,317.63 66.10,322.36 60.73,322.36" fill="#0000ff"/><polygon points="67.16,315.31 69.84,320.04 64.47,320.04" fill="#0000ff"/><polygon points="70.90,313.09 73.59,317.82 68.21,317.82" fill="#0000ff"/><polygon points="74.64,311.16 77.33,315.89 71.95,315.89" fill="#0000ff"/><polygon points="78.38,309.55 81.07,314.28 75.69,314.28" fill="#0000ff"/><polygon points="82.12,308.14 84.81,312.87 79.44,312.87" fill="#0000ff"/><polygon points="85.87,306.86 88.55,311.59 83.18,311.59" fill="#0000ff"/><polygon points="89.61,305.72 92.29,310.45 86.92,310.45" fill="#0000ff"/><polygon points="93.35,304.71 96.04,309.44 90.66,309.44" fill="#0000ff"/><polygon points="97.09,303.79 99.78,308.52 94.40,308.52" fill="#0000ff"/><polygon points="100.83,303.04 103.52,307.77 98.15,307.77" fill="#0000ff"/><polygon points="104.57,302.58 107.26,307.31 101.89,307.31" fill="#0000ff"/><polygon points="108.32,302.35 111.00,307.08 105.63,307.08" fill="#0000ff"/><polygon points="112.06,302.23 114.75,306.96 109.37,306.96" fill="#0000ff"/><polygon points="115.80,302.19 118.49,306.92 113.11,306.92" fill="#0000ff"/><polygon points="119.54,302.22 122.23,306.95 116.85,306.95" fill="#0000ff"/><polygon points="123.28,302.35 125.97,307.08 120.60,307.08" fill="#0000ff"/><polygon points="127.03,302.55 129.71,307.28 124.34,307.28" fill="#0000ff"/><polygon points="130.77,302.83 133.45,307.56 128.08,307.56" fill="#0000ff"/><polygon points="134.51,303.18 137.20,307.91 131.82,307.91" fill="#0000ff"/><polygon points="138.25,303.59 140.94,308.32 135.56,308.32" fill="#0000ff"/><polygon points="141.99,304.05 144.68,308.78 139.31,308.78" fill="#0000ff"/><polygon points="145.73,304.59 148.42,309.32 143.05,309.32" fill="#0000ff"/><polygon points="149.48,305.18 152.16,309.91 146.79,309.91" fill="#0000ff"/><polygon points="153.22,305.79 155.91,310.52 150.53,310.52" fill="#0000ff"/><polygon points="156.96,306.42 159.65,311.15 154.27,311.15" fill="#0000ff"/><polygon points="160.70,307.17 163.39,311.90 158.01,311.90" fill="#0000ff"/><polygon points="164.44,308.16 167.13,312.89 161.76,312.89" fill="#0000ff"/><polygon points="168.19,309.38 170.87,314.11 165.50,314.11" fill="#0000ff"/><polygon points="171.93,310.77 174.61,315.50 169.24,315.50" fill="#0000ff"/><polygon points="175.67,312.26 178.36,316.99 172.98,316.99" fill="#0000ff"/><polygon points="179.41,313.84 182.10,318.57 176.72,318.57" fill="#0000ff"/><polygon points="183.15,315.64 185.84,320.37 180.47,320.37" fill="#0000ff"/><polygon points="186.89,317.87 189.58,322.60 184.21,322.60" fill="#0000ff"/><polygon points="190.64,320.55 193.32,325.28 187.95,325.28" fill="#0000ff"/><polygon points="194.38,323.65 197.07,328.38 191.69,328.38" fill="#0000ff"/><polygon points="198.12,327.15 200.81,331.88 195.43,331.88" fill="#0000ff"/><polygon points="201.86,331.19 204.55,335.92 199.17,335.92" fill="#0000ff"/><polygon points="205.60,336.14 208.29,340.87 202.92,340.87" fill="#0000ff"/><polygon points="209.35,342.05 212.03,346.78 206.66,346.78" fill="#0000ff"/><polygon points="213.09,348.56 215.77,353.29 210.40,353.29" fill="#0000ff"/><polygon points="216.83,355.46 219.52,360.19 214.14,360.19" fill="#0000ff"/><polygon points="220.57,362.24 223.26,366.97 217.88,366.97" fill="#0000ff"/><polygon points="224.31,367.52 227.00,372.25 221.63,372.25" fill="#0000ff"/><polygon points="228.05,371.08 230.74,375.81 225.37,375.81" fill="#0000ff"/><polygon points="231.80,374.71 234.48,379.44 229.11,379.44" fill="#0000ff"/><polygon points="235.54,378.48 238.23,383.21 232.85,383.21" fill="#0000ff"/><polygon points="57.38,347.32 60.07,352.05 54.69,352.05" fill="#0000ff"/>
<path d="M59.48,361.75 L59.52,360.80 L59.57,359.84 L59.61,358.88 L59.66,357.92 L59.70,356.95 L59.74,355.99 L59.79,355.03 L59.83,354.08 L59.87,353.13 L59.91,352.20 L59.94,351.27 L59.98,350.36 L60.00,349.53 L60.02,348.70 L60.02,347.88 L60.03,347.06 L60.03,346.24 L60.03,345.44 L60.04,344.64 L60.05,343.85 L60.08,343.08 L60.12,342.32 L60.17,341.59 L60.25,340.87 L60.32,340.29 L60.39,339.71 L60.47,339.14 L60.55,338.59 L60.65,338.04 L60.74,337.50 L60.85,336.97 L60.97,336.46 L61.11,335.95 L61.25,335.47 L61.41,335.00 L61.58,334.54 L61.74,334.18 L61.91,333.83 L62.08,333.50 L62.27,333.18 L62.46,332.87 L62.66,332.56 L62.87,332.26 L63.08,331.97 L63.30,331.67 L63.53,331.37 L63.75,331.06 L63.99,330.74 L64.25,330.37 L64.53,329.99 L64.80,329.61 L65.08,329.21 L65.37,328.82 L65.67,328.43 L65.98,328.05 L66.30,327.67 L66.63,327.31 L66.97,326.96 L67.32,326.62 L67.69,326.31 L68.09,326.01 L68.50,325.73 L68.92,325.47 L69.36,325.22 L69.80,324.98 L70.26,324.75 L70.73,324.53 L71.22,324.32 L71.72,324.11 L72.23,323.90 L72.76,323.68 L73.30,323.47 L74.05,323.18 L74.84,322.89 L75.67,322.60 L76.53,322.32 L77.42,322.04 L78.32,321.77 L79.23,321.50 L80.15,321.24 L81.06,320.99 L81.97,320.75 L82.86,320.52 L83.73,320.30 L84.53,320.10 L85.34,319.91 L86.14,319.73 L86.94,319.56 L87.74,319.39 L88.53,319.23 L89.33,319.07 L90.12,318.93 L90.91,318.79 L91.70,318.65 L92.49,318.53 L93.27,318.40 L94.03,318.29 L94.77,318.18 L95.51,318.08 L96.24,317.98 L96.97,317.89 L97.71,317.80 L98.45,317.73 L99.19,317.65 L99.94,317.59 L100.71,317.54 L101.49,317.49 L102.28,317.45 L103.22,317.43 L104.18,317.41 L105.16,317.41 L106.15,317.43 L107.15,317.45 L108.16,317.48 L109.18,317.52 L110.20,317.56 L111.23,317.61 L112.25,317.66 L113.26,317.72 L114.27,317.77 L115.29,317.83 L116.30,317.88 L117.31,317.95 L118.32,318.02 L119.33,318.09 L120.34,318.16 L121.36,318.25 L122.38,318.33 L123.40,318.42 L124.42,318.52 L125.45,318.62 L126.49,318.72 L127.59,318.83 L128.70,318.96 L129.83,319.08 L130.96,319.21 L132.10,319.35 L133.23,319.49 L134.37,319.63 L135.49,319.78 L136.61,319.94 L137.71,320.10 L138.79,320.26 L139.85,320.43 L140.79,320.58 L141.72,320.72 L142.64,320.86 L143.55,321.00 L144.45,321.14 L145.34,321.29 L146.22,321.46 L147.10,321.63 L147.97,321.82 L148.83,322.03 L149.69,322.26 L150.55,322.52 L151.37,322.79 L152.18,323.09 L152.98,323.40 L153.77,323.73 L154.55,324.07 L155.33,324.43 L156.11,324.81 L156.89,325.19 L157.67,325.58 L158.47,325.99 L159.27,326.40 L160.09,326.82 L161.06,327.31 L162.07,327.82 L163.11,328.35 L164.17,328.89 L165.23,329.44 L166.29,330.01 L167.34,330.58 L168.35,331.17 L169.33,331.77 L170.26,332.37 L171.13,332.98 L171.93,333.59 L172.48,334.07 L172.99,334.55 L173.46,335.03 L173.91,335.53 L174.32,336.03 L174.73,336.53 L175.12,337.03 L175.52,337.54 L175.93,338.06 L176.35,338.57 L176.80,339.09 L177.27,339.60 L177.86,340.20 L178.49,340.80 L179.15,341.40 L179.83,342.01 L180.52,342.62 L181.21,343.23 L181.89,343.85 L182.56,344.47 L183.20,345.10 L183.82,345.73 L184.39,346.37 L184.91,347.01 L185.32,347.56 L185.71,348.11 L186.07,348.66 L186.41,349.22 L186.74,349.78 L187.05,350.34 L187.35,350.91 L187.64,351.49 L187.92,352.06 L188.19,352.65 L188.46,353.24 L188.73,353.84 L189.00,354.47 L189.25,355.10 L189.49,355.74 L189.72,356.39 L189.94,357.05 L190.15,357.70 L190.36,358.37 L190.57,359.04 L190.77,359.71 L190.98,360.39 L191.19,361.07 L191.40,361.75 L191.62,362.49 L191.83,363.26 L192.04,364.04 L192.24,364.84 L192.43,365.64 L192.63,366.44 L192.84,367.23 L193.05,368.00 L193.28,368.75 L193.52,369.47 L193.79,370.16 L194.07,370.80 L194.31,371.28 L194.56,371.75 L194.82,372.21 L195.09,372.64 L195.36,373.07 L195.65,373.48 L195.94,373.88 L196.23,374.26 L196.54,374.63 L196.86,374.99 L197.18,375.34 L197.51,375.67 L197.82,375.97 L198.14,376.24 L198.47,376.51 L198.81,376.76 L199.15,377.00 L199.50,377.22 L199.86,377.45 L200.22,377.66 L200.59,377.88 L200.96,378.09 L201.33,378.30 L201.71,378.52 L202.12,378.76 L202.54,378.99 L202.96,379.23 L203.39,379.46 L203.83,379.69 L204.27,379.92 L204.72,380.14 L205.17,380.35 L205.63,380.54 L206.10,380.73 L206.57,380.90 L207.05,381.05 L207.59,381.20 L208.13,381.32 L208.69,381.42 L209.26,381.51 L209.84,381.58 L210.42,381.64 L211.01,381.70 L211.59,381.75 L212.18,381.81 L212.77,381.86 L213.35,381.93 L213.93,382.00" fill="none" stroke="#00ffff" stroke-width="1.3" stroke-linejoin="round"/>
<polygon points="59.48,364.35 62.17,359.62 56.79,359.62" fill="#00ffff"/><polygon points="63.22,334.38 65.91,329.65 60.54,329.65" fill="#00ffff"/><polygon points="66.97,329.56 69.65,324.83 64.28,324.83" fill="#00ffff"/><polygon points="70.71,327.15 73.39,322.42 68.02,322.42" fill="#00ffff"/><polygon points="74.45,325.63 77.14,320.90 71.76,320.90" fill="#00ffff"/><polygon points="78.19,324.41 80.88,319.68 75.50,319.68" fill="#00ffff"/><polygon points="81.93,323.36 84.62,318.63 79.25,318.63" fill="#00ffff"/><polygon points="85.67,322.44 88.36,317.71 82.99,317.71" fill="#00ffff"/><polygon points="89.42,321.66 92.10,316.93 86.73,316.93" fill="#00ffff"/><polygon points="93.16,321.02 95.85,316.29 90.47,316.29" fill="#00ffff"/><polygon points="96.90,320.50 99.59,315.77 94.21,315.77" fill="#00ffff"/><polygon points="100.64,320.14 103.33,315.41 97.95,315.41" fill="#00ffff"/><polygon points="104.38,320.01 107.07,315.28 101.70,315.28" fill="#00ffff"/><polygon points="108.13,320.08 110.81,315.35 105.44,315.35" fill="#00ffff"/><polygon points="111.87,320.25 114.55,315.52 109.18,315.52" fill="#00ffff"/><polygon points="115.61,320.45 118.30,315.72 112.92,315.72" fill="#00ffff"/><polygon points="119.35,320.69 122.04,315.96 116.66,315.96" fill="#00ffff"/><polygon points="123.09,321.00 125.78,316.27 120.41,316.27" fill="#00ffff"/><polygon points="126.83,321.36 129.52,316.63 124.15,316.63" fill="#00ffff"/><polygon points="130.58,321.77 133.26,317.04 127.89,317.04" fill="#00ffff"/><polygon points="134.32,322.23 137.01,317.50 131.63,317.50" fill="#00ffff"/><polygon points="138.06,322.75 140.75,318.02 135.37,318.02" fill="#00ffff"/><polygon points="141.80,323.33 144.49,318.60 139.11,318.60" fill="#00ffff"/><polygon points="145.54,323.93 148.23,319.20 142.86,319.20" fill="#00ffff"/><polygon points="149.29,324.75 151.97,320.02 146.60,320.02" fill="#00ffff"/><polygon points="153.03,326.02 155.71,321.29 150.34,321.29" fill="#00ffff"/><polygon points="156.77,327.73 159.46,323.00 154.08,323.00" fill="#00ffff"/><polygon points="160.51,329.63 163.20,324.90 157.82,324.90" fill="#00ffff"/><polygon points="164.25,331.53 166.94,326.80 161.57,326.80" fill="#00ffff"/><polygon points="167.99,333.57 170.68,328.84 165.31,328.84" fill="#00ffff"/><polygon points="171.74,336.05 174.42,331.32 169.05,331.32" fill="#00ffff"/><polygon points="175.48,340.09 178.17,335.36 172.79,335.36" fill="#00ffff"/><polygon points="179.22,344.07 181.91,339.34 176.53,339.34" fill="#00ffff"/><polygon points="182.96,347.47 185.65,342.74 180.27,342.74" fill="#00ffff"/><polygon points="186.70,352.32 189.39,347.59 184.02,347.59" fill="#00ffff"/><polygon points="190.45,361.24 193.13,356.51 187.76,356.51" fill="#00ffff"/><polygon points="194.19,373.63 196.87,368.90 191.50,368.90" fill="#00ffff"/><polygon points="197.93,378.66 200.62,373.93 195.24,373.93" fill="#00ffff"/><polygon points="201.67,381.10 204.36,376.37 198.98,376.37" fill="#00ffff"/><polygon points="205.41,383.05 208.10,378.32 202.73,378.32" fill="#00ffff"/><polygon points="209.15,384.09 211.84,379.36 206.47,379.36" fill="#00ffff"/><polygon points="212.90,384.48 215.58,379.75 210.21,379.75" fill="#00ffff"/>
<path d="M57.76,330.74 L57.90,329.98 L58.04,329.21 L58.18,328.43 L58.31,327.65 L58.44,326.87 L58.58,326.09 L58.71,325.32 L58.85,324.56 L59.00,323.80 L59.15,323.06 L59.31,322.34 L59.48,321.63 L59.63,321.02 L59.76,320.41 L59.89,319.79 L60.01,319.18 L60.14,318.58 L60.28,317.99 L60.43,317.42 L60.60,316.87 L60.80,316.33 L61.02,315.83 L61.28,315.36 L61.58,314.92 L61.89,314.56 L62.23,314.23 L62.59,313.92 L62.97,313.64 L63.38,313.38 L63.80,313.14 L64.23,312.90 L64.68,312.68 L65.14,312.45 L65.61,312.23 L66.08,312.00 L66.55,311.76 L67.11,311.47 L67.69,311.19 L68.28,310.91 L68.88,310.63 L69.50,310.36 L70.13,310.09 L70.78,309.83 L71.43,309.57 L72.10,309.32 L72.78,309.07 L73.48,308.83 L74.18,308.60 L75.04,308.32 L75.92,308.05 L76.81,307.78 L77.73,307.52 L78.66,307.27 L79.61,307.02 L80.57,306.78 L81.55,306.56 L82.55,306.34 L83.56,306.13 L84.59,305.93 L85.64,305.75 L86.92,305.54 L88.25,305.36 L89.63,305.18 L91.04,305.03 L92.48,304.88 L93.92,304.75 L95.37,304.63 L96.81,304.52 L98.23,304.42 L99.63,304.33 L100.98,304.25 L102.28,304.17 L103.35,304.10 L104.40,304.04 L105.42,303.98 L106.43,303.93 L107.43,303.89 L108.42,303.85 L109.40,303.82 L110.37,303.80 L111.34,303.79 L112.31,303.80 L113.29,303.82 L114.27,303.85 L115.24,303.89 L116.22,303.93 L117.20,303.97 L118.18,304.03 L119.15,304.09 L120.13,304.17 L121.09,304.26 L122.05,304.38 L122.99,304.52 L123.92,304.68 L124.83,304.88 L125.73,305.11 L126.54,305.37 L127.34,305.67 L128.12,306.00 L128.88,306.35 L129.63,306.73 L130.38,307.12 L131.12,307.53 L131.86,307.93 L132.60,308.34 L133.35,308.74 L134.12,309.12 L134.89,309.48 L135.70,309.84 L136.52,310.19 L137.35,310.54 L138.18,310.88 L139.02,311.22 L139.86,311.57 L140.69,311.91 L141.53,312.25 L142.36,312.59 L143.19,312.94 L144.01,313.30 L144.82,313.66 L145.61,314.01 L146.40,314.37 L147.19,314.72 L147.99,315.08 L148.78,315.44 L149.57,315.80 L150.35,316.17 L151.11,316.54 L151.86,316.92 L152.59,317.30 L153.30,317.69 L153.98,318.09 L154.55,318.44 L155.10,318.80 L155.64,319.16 L156.17,319.53 L156.68,319.91 L157.18,320.28 L157.68,320.66 L158.17,321.04 L158.65,321.42 L159.13,321.79 L159.61,322.16 L160.09,322.52 L160.52,322.84 L160.94,323.15 L161.36,323.45 L161.77,323.75 L162.17,324.05 L162.57,324.35 L162.97,324.65 L163.38,324.96 L163.79,325.28 L164.20,325.61 L164.62,325.95 L165.05,326.31 L165.60,326.77 L166.17,327.24 L166.76,327.73 L167.36,328.23 L167.97,328.74 L168.57,329.27 L169.17,329.81 L169.77,330.35 L170.34,330.91 L170.90,331.48 L171.43,332.06 L171.93,332.64 L172.38,333.22 L172.82,333.82 L173.24,334.44 L173.63,335.07 L174.02,335.70 L174.39,336.34 L174.75,336.99 L175.11,337.65 L175.46,338.30 L175.81,338.95 L176.16,339.59 L176.51,340.24 L176.85,340.85 L177.17,341.46 L177.48,342.07 L177.79,342.67 L178.09,343.28 L178.39,343.88 L178.69,344.50 L179.00,345.12 L179.31,345.74 L179.64,346.38 L179.97,347.03 L180.33,347.70 L180.78,348.53 L181.25,349.38 L181.73,350.23 L182.23,351.10 L182.73,351.99 L183.25,352.89 L183.78,353.80 L184.30,354.72 L184.84,355.65 L185.37,356.60 L185.91,357.55 L186.44,358.52 L187.06,359.68 L187.69,360.91 L188.35,362.19 L189.01,363.50 L189.67,364.83 L190.34,366.16 L191.00,367.46 L191.65,368.74 L192.29,369.96 L192.91,371.11 L193.50,372.18 L194.07,373.14 L194.42,373.70 L194.75,374.24 L195.07,374.75 L195.38,375.25 L195.69,375.72 L196.00,376.17 L196.30,376.61 L196.61,377.02 L196.92,377.42 L197.23,377.80 L197.56,378.17 L197.89,378.52 L198.16,378.79 L198.44,379.05 L198.72,379.30 L199.00,379.54 L199.28,379.77 L199.57,379.98 L199.86,380.19 L200.14,380.38 L200.44,380.57 L200.73,380.74 L201.03,380.90 L201.33,381.05 L201.60,381.18 L201.88,381.28 L202.17,381.38 L202.45,381.46 L202.74,381.54 L203.03,381.61 L203.32,381.67 L203.61,381.73 L203.90,381.79 L204.19,381.86 L204.48,381.93 L204.76,382.00" fill="none" stroke="#ff00ff" stroke-width="1.3" stroke-linejoin="round"/>
<polygon points="59.48,318.51 62.06,321.63 59.48,324.75 56.90,321.63" fill="#ff00ff"/><polygon points="63.22,310.36 65.80,313.48 63.22,316.60 60.64,313.48" fill="#ff00ff"/><polygon points="66.97,308.43 69.55,311.54 66.97,314.66 64.39,311.54" fill="#ff00ff"/><polygon points="70.71,306.74 73.29,309.86 70.71,312.98 68.13,309.86" fill="#ff00ff"/><polygon points="74.45,305.39 77.03,308.51 74.45,311.63 71.87,308.51" fill="#ff00ff"/><polygon points="78.19,304.28 80.77,307.39 78.19,310.51 75.61,307.39" fill="#ff00ff"/><polygon points="81.93,303.36 84.51,306.47 81.93,309.59 79.35,306.47" fill="#ff00ff"/><polygon points="85.67,302.62 88.25,305.74 85.67,308.86 83.09,305.74" fill="#ff00ff"/><polygon points="89.42,302.09 92.00,305.21 89.42,308.33 86.84,305.21" fill="#ff00ff"/><polygon points="93.16,301.70 95.74,304.82 93.16,307.94 90.58,304.82" fill="#ff00ff"/><polygon points="96.90,301.40 99.48,304.52 96.90,307.63 94.32,304.52" fill="#ff00ff"/><polygon points="100.64,301.15 103.22,304.27 100.64,307.38 98.06,304.27" fill="#ff00ff"/><polygon points="104.38,300.92 106.96,304.04 104.38,307.16 101.80,304.04" fill="#ff00ff"/><polygon points="108.13,300.74 110.71,303.86 108.13,306.98 105.55,303.86" fill="#ff00ff"/><polygon points="111.87,300.68 114.45,303.79 111.87,306.91 109.29,303.79" fill="#ff00ff"/><polygon points="115.61,300.79 118.19,303.90 115.61,307.02 113.03,303.90" fill="#ff00ff"/><polygon points="119.35,300.99 121.93,304.10 119.35,307.22 116.77,304.10" fill="#ff00ff"/><polygon points="123.09,301.42 125.67,304.53 123.09,307.65 120.51,304.53" fill="#ff00ff"/><polygon points="126.83,302.36 129.41,305.48 126.83,308.60 124.25,305.48" fill="#ff00ff"/><polygon points="130.58,304.12 133.16,307.23 130.58,310.35 128.00,307.23" fill="#ff00ff"/><polygon points="134.32,306.10 136.90,309.21 134.32,312.33 131.74,309.21" fill="#ff00ff"/><polygon points="138.06,307.72 140.64,310.83 138.06,313.95 135.48,310.83" fill="#ff00ff"/><polygon points="141.80,309.24 144.38,312.36 141.80,315.48 139.22,312.36" fill="#ff00ff"/><polygon points="145.54,310.87 148.12,313.98 145.54,317.10 142.96,313.98" fill="#ff00ff"/><polygon points="149.29,312.55 151.87,315.67 149.29,318.79 146.71,315.67" fill="#ff00ff"/><polygon points="153.03,314.42 155.61,317.54 153.03,320.66 150.45,317.54" fill="#ff00ff"/><polygon points="156.77,316.86 159.35,319.97 156.77,323.09 154.19,319.97" fill="#ff00ff"/><polygon points="160.51,319.71 163.09,322.83 160.51,325.95 157.93,322.83" fill="#ff00ff"/><polygon points="164.25,322.54 166.83,325.65 164.25,328.77 161.67,325.65" fill="#ff00ff"/><polygon points="167.99,325.65 170.57,328.77 167.99,331.89 165.41,328.77" fill="#ff00ff"/><polygon points="171.74,329.30 174.32,332.42 171.74,335.54 169.16,332.42" fill="#ff00ff"/><polygon points="175.48,335.22 178.06,338.33 175.48,341.45 172.90,338.33" fill="#ff00ff"/><polygon points="179.22,342.44 181.80,345.56 179.22,348.68 176.64,345.56" fill="#ff00ff"/><polygon points="182.96,349.27 185.54,352.38 182.96,355.50 180.38,352.38" fill="#ff00ff"/><polygon points="186.70,355.91 189.28,359.02 186.70,362.14 184.12,359.02" fill="#ff00ff"/><polygon points="190.45,363.25 193.03,366.37 190.45,369.49 187.87,366.37" fill="#ff00ff"/><polygon points="194.19,370.21 196.77,373.33 194.19,376.45 191.61,373.33" fill="#ff00ff"/><polygon points="197.93,375.44 200.51,378.56 197.93,381.68 195.35,378.56" fill="#ff00ff"/><polygon points="201.67,378.08 204.25,381.20 201.67,384.32 199.09,381.20" fill="#ff00ff"/><polygon points="57.76,327.63 60.34,330.74 57.76,333.86 55.18,330.74" fill="#ff00ff"/>
<text x="11.50" y="15.60" font-size="12.5" text-anchor="start" >(a)</text>
<text x="279.80" y="16.20" font-size="12.5" text-anchor="start" >(b)</text>
<text x="11.50" y="220.10" font-size="12.5" text-anchor="start" >(c)</text>
<text x="279.80" y="220.00" font-size="12.5" text-anchor="start" >(d)</text>
<text x="59.60" y="32.30" font-size="14.0" text-anchor="start" >800 °C</text>
<text x="327.80" y="34.10" font-size="14.0" text-anchor="start" >850 °C</text>
<text x="60.00" y="239.10" font-size="14.0" text-anchor="start" >920 °C</text>
<text x="162.00" y="207.60" font-size="12.6" text-anchor="middle" >Strain (%)</text>
<text x="0" y="0" font-size="12.6" text-anchor="middle" transform="translate(31.60,97.00) rotate(-90)">Stress (MPa)</text>
<text x="429.40" y="207.60" font-size="12.6" text-anchor="middle" >Strain (%)</text>
<text x="0" y="0" font-size="12.6" text-anchor="middle" transform="translate(300.00,98.20) rotate(-90)">Stress (MPa)</text>
<text x="162.00" y="412.60" font-size="12.6" text-anchor="middle" >Strain (%)</text>
<text x="0" y="0" font-size="12.6" text-anchor="middle" transform="translate(31.60,302.50) rotate(-90)">Stress (MPa)</text>
<path d="M182.90,25.10H201.60" stroke="#000000" stroke-width="1.9"/>
<text x="204.30" y="29.70" font-size="12.6" text-anchor="start" >Bare</text>
<path d="M182.90,40.35H201.60" stroke="#ff0000" stroke-width="1.8"/>
<rect x="189.89" y="37.99" width="4.73" height="4.73" fill="#ff0000"/>
<text x="204.30" y="44.95" font-size="12.6" text-anchor="start" >Coated (#0)</text>
<path d="M182.90,55.60H201.60" stroke="#00e600" stroke-width="1.8"/>
<circle cx="192.25" cy="55.60" r="2.59" fill="#00e600"/>
<text x="204.30" y="60.20" font-size="12.6" text-anchor="start" >Coated (#1)</text>
<path d="M182.90,70.85H201.60" stroke="#0000ff" stroke-width="1.8"/>
<polygon points="192.25,68.13 195.06,73.08 189.44,73.08" fill="#0000ff"/>
<text x="204.30" y="75.45" font-size="12.6" text-anchor="start" >Coated (#2)</text>
<path d="M182.90,86.10H201.60" stroke="#00ffff" stroke-width="1.8"/>
<polygon points="192.25,88.82 195.06,83.87 189.44,83.87" fill="#00ffff"/>
<text x="204.30" y="90.70" font-size="12.6" text-anchor="start" >Coated (#3)</text>
<path d="M182.90,101.35H201.60" stroke="#ff00ff" stroke-width="1.8"/>
<polygon points="192.25,98.09 194.95,101.35 192.25,104.61 189.55,101.35" fill="#ff00ff"/>
<text x="204.30" y="105.95" font-size="12.6" text-anchor="start" >Coated (#4)</text>
<path d="M449.50,26.40H468.00" stroke="#000000" stroke-width="1.9"/>
<text x="470.80" y="31.00" font-size="12.6" text-anchor="start" >Bare</text>
<path d="M449.50,41.65H468.00" stroke="#ff0000" stroke-width="1.8"/>
<rect x="456.39" y="39.29" width="4.73" height="4.73" fill="#ff0000"/>
<text x="470.80" y="46.25" font-size="12.6" text-anchor="start" >Coated (#0)</text>
<path d="M449.50,56.90H468.00" stroke="#00e600" stroke-width="1.8"/>
<circle cx="458.75" cy="56.90" r="2.59" fill="#00e600"/>
<text x="470.80" y="61.50" font-size="12.6" text-anchor="start" >Coated (#1)</text>
<path d="M449.50,72.15H468.00" stroke="#0000ff" stroke-width="1.8"/>
<polygon points="458.75,69.43 461.56,74.38 455.94,74.38" fill="#0000ff"/>
<text x="470.80" y="76.75" font-size="12.6" text-anchor="start" >Coated (#2)</text>
<path d="M449.50,87.40H468.00" stroke="#00ffff" stroke-width="1.8"/>
<polygon points="458.75,90.12 461.56,85.17 455.94,85.17" fill="#00ffff"/>
<text x="470.80" y="92.00" font-size="12.6" text-anchor="start" >Coated (#3)</text>
<path d="M449.50,102.65H468.00" stroke="#ff00ff" stroke-width="1.8"/>
<polygon points="458.75,99.39 461.45,102.65 458.75,105.91 456.05,102.65" fill="#ff00ff"/>
<text x="470.80" y="107.25" font-size="12.6" text-anchor="start" >Coated (#4)</text>
<path d="M183.00,231.10H200.30" stroke="#000000" stroke-width="1.9"/>
<text x="203.60" y="235.70" font-size="12.6" text-anchor="start" >Bare</text>
<path d="M183.00,246.35H200.30" stroke="#ff0000" stroke-width="1.8"/>
<rect x="189.29" y="243.99" width="4.73" height="4.73" fill="#ff0000"/>
<text x="203.60" y="250.95" font-size="12.6" text-anchor="start" >Coated (#0)</text>
<path d="M183.00,261.60H200.30" stroke="#00e600" stroke-width="1.8"/>
<circle cx="191.65" cy="261.60" r="2.59" fill="#00e600"/>
<text x="203.60" y="266.20" font-size="12.6" text-anchor="start" >Coated (#1)</text>
<path d="M183.00,276.85H200.30" stroke="#0000ff" stroke-width="1.8"/>
<polygon points="191.65,274.13 194.46,279.08 188.84,279.08" fill="#0000ff"/>
<text x="203.60" y="281.45" font-size="12.6" text-anchor="start" >Coated (#2)</text>
<path d="M183.00,292.10H200.30" stroke="#00ffff" stroke-width="1.8"/>
<polygon points="191.65,294.82 194.46,289.87 188.84,289.87" fill="#00ffff"/>
<text x="203.60" y="296.70" font-size="12.6" text-anchor="start" >Coated (#3)</text>
<path d="M183.00,307.35H200.30" stroke="#ff00ff" stroke-width="1.8"/>
<polygon points="191.65,304.09 194.35,307.35 191.65,310.61 188.95,307.35" fill="#ff00ff"/>
<text x="203.60" y="311.95" font-size="12.6" text-anchor="start" >Coated (#4)</text>
<rect x="324.30" y="221.40" width="210.20" height="160.90" fill="none" stroke="#727272" stroke-width="1.4"/>
<path d="M324.30,382.30v3.2M366.34,382.30v3.2M408.38,382.30v3.2M450.42,382.30v3.2M492.46,382.30v3.2M534.50,382.30v3.2M345.32,382.30v1.8M387.36,382.30v1.8M429.40,382.30v1.8M471.44,382.30v1.8M513.48,382.30v1.8M324.30,364.42h-3.2M324.30,328.67h-3.2M324.30,292.91h-3.2M324.30,257.16h-3.2M324.30,221.40h-3.2M324.30,346.54h-1.8M324.30,310.79h-1.8M324.30,275.03h-1.8M324.30,239.28h-1.8" stroke="#727272" stroke-width="1.1" fill="none"/>
<text x="324.30" y="395.60" font-size="11.0" text-anchor="middle" >750</text>
<text x="366.34" y="395.60" font-size="11.0" text-anchor="middle" >800</text>
<text x="408.38" y="395.60" font-size="11.0" text-anchor="middle" >850</text>
<text x="450.42" y="395.60" font-size="11.0" text-anchor="middle" >900</text>
<text x="492.46" y="395.60" font-size="11.0" text-anchor="middle" >950</text>
<text x="534.50" y="395.60" font-size="11.0" text-anchor="middle" >1000</text>
<text x="319.50" y="368.02" font-size="11.0" text-anchor="end" >10</text>
<text x="319.50" y="332.27" font-size="11.0" text-anchor="end" >20</text>
<text x="319.50" y="296.51" font-size="11.0" text-anchor="end" >30</text>
<text x="319.50" y="260.76" font-size="11.0" text-anchor="end" >40</text>
<text x="319.50" y="225.00" font-size="11.0" text-anchor="end" >50</text>
<path d="M324.30,364.42H534.50" stroke="#dc6f2c" stroke-width="1.5" stroke-dasharray="5.5 5.4"/>
<path d="M366.34,302.92 L408.38,317.94 L467.24,336.53" fill="none" stroke="#ff0000" stroke-width="1.8"/>
<path d="M366.34,334.39 L408.38,316.15 L467.24,344.40" fill="none" stroke="#00e600" stroke-width="1.8"/>
<path d="M366.34,324.38 L408.38,320.80 L467.24,364.42" fill="none" stroke="#0000ff" stroke-width="1.8"/>
<path d="M366.34,316.51 L408.38,324.73 L467.24,330.81" fill="none" stroke="#00ffff" stroke-width="1.8"/>
<path d="M366.34,314.36 L408.38,294.70 L467.24,312.58" fill="none" stroke="#ff00ff" stroke-width="1.8"/>
<rect x="363.61" y="300.19" width="5.46" height="5.46" fill="#fff" stroke="#ff0000" stroke-width="0.9"/>
<rect x="405.65" y="315.21" width="5.46" height="5.46" fill="#fff" stroke="#ff0000" stroke-width="0.9"/>
<rect x="464.51" y="333.80" width="5.46" height="5.46" fill="#fff" stroke="#ff0000" stroke-width="0.9"/>
<circle cx="366.34" cy="334.39" r="2.99" fill="#fff" stroke="#00e600" stroke-width="0.9"/>
<circle cx="408.38" cy="316.15" r="2.99" fill="#fff" stroke="#00e600" stroke-width="0.9"/>
<circle cx="467.24" cy="344.40" r="2.99" fill="#fff" stroke="#00e600" stroke-width="0.9"/>
<polygon points="366.34,321.23 369.59,326.95 363.09,326.95" fill="#fff" stroke="#0000ff" stroke-width="0.9"/>
<polygon points="408.38,317.65 411.63,323.37 405.13,323.37" fill="#fff" stroke="#0000ff" stroke-width="0.9"/>
<polygon points="467.24,361.28 470.49,367.00 463.99,367.00" fill="#fff" stroke="#0000ff" stroke-width="0.9"/>
<polygon points="366.34,319.66 369.59,313.94 363.09,313.94" fill="#fff" stroke="#00ffff" stroke-width="0.9"/>
<polygon points="408.38,327.88 411.63,322.16 405.13,322.16" fill="#fff" stroke="#00ffff" stroke-width="0.9"/>
<polygon points="467.24,333.96 470.49,328.24 463.99,328.24" fill="#fff" stroke="#00ffff" stroke-width="0.9"/>
<polygon points="366.34,310.59 369.46,314.36 366.34,318.13 363.22,314.36" fill="#fff" stroke="#ff00ff" stroke-width="0.9"/>
<polygon points="408.38,290.93 411.50,294.70 408.38,298.47 405.26,294.70" fill="#fff" stroke="#ff00ff" stroke-width="0.9"/>
<polygon points="467.24,308.81 470.36,312.58 467.24,316.35 464.12,312.58" fill="#fff" stroke="#ff00ff" stroke-width="0.9"/>
<path d="M447.8,229.50H465.6" stroke="#ff0000" stroke-width="1.6"/>
<rect x="453.97" y="226.77" width="5.46" height="5.46" fill="#fff" stroke="#ff0000" stroke-width="0.9"/>
<text x="468.60" y="234.10" font-size="12.6" text-anchor="start" >Coated (#0)</text>
<path d="M447.8,244.55H465.6" stroke="#00e600" stroke-width="1.6"/>
<circle cx="456.70" cy="244.55" r="2.99" fill="#fff" stroke="#00e600" stroke-width="0.9"/>
<text x="468.60" y="249.15" font-size="12.6" text-anchor="start" >Coated (#1)</text>
<path d="M447.8,259.60H465.6" stroke="#0000ff" stroke-width="1.6"/>
<polygon points="456.70,256.45 459.95,262.17 453.45,262.17" fill="#fff" stroke="#0000ff" stroke-width="0.9"/>
<text x="468.60" y="264.20" font-size="12.6" text-anchor="start" >Coated (#2)</text>
<path d="M447.8,274.65H465.6" stroke="#00ffff" stroke-width="1.6"/>
<polygon points="456.70,277.80 459.95,272.08 453.45,272.08" fill="#fff" stroke="#00ffff" stroke-width="0.9"/>
<text x="468.60" y="279.25" font-size="12.6" text-anchor="start" >Coated (#3)</text>
<path d="M447.8,289.70H465.6" stroke="#ff00ff" stroke-width="1.6"/>
<polygon points="456.70,285.93 459.82,289.70 456.70,293.47 453.58,289.70" fill="#fff" stroke="#ff00ff" stroke-width="0.9"/>
<text x="468.60" y="294.30" font-size="12.6" text-anchor="start" >Coated (#4)</text>
<text x="429.40" y="412.70" font-size="12.6" text-anchor="middle" >T (°C)</text>
<text x="0" y="0" font-size="12.55" text-anchor="middle" transform="translate(305.0,301.8) rotate(-90)">Relative reduction of energy (%)</text>
</svg>
</body></html>
